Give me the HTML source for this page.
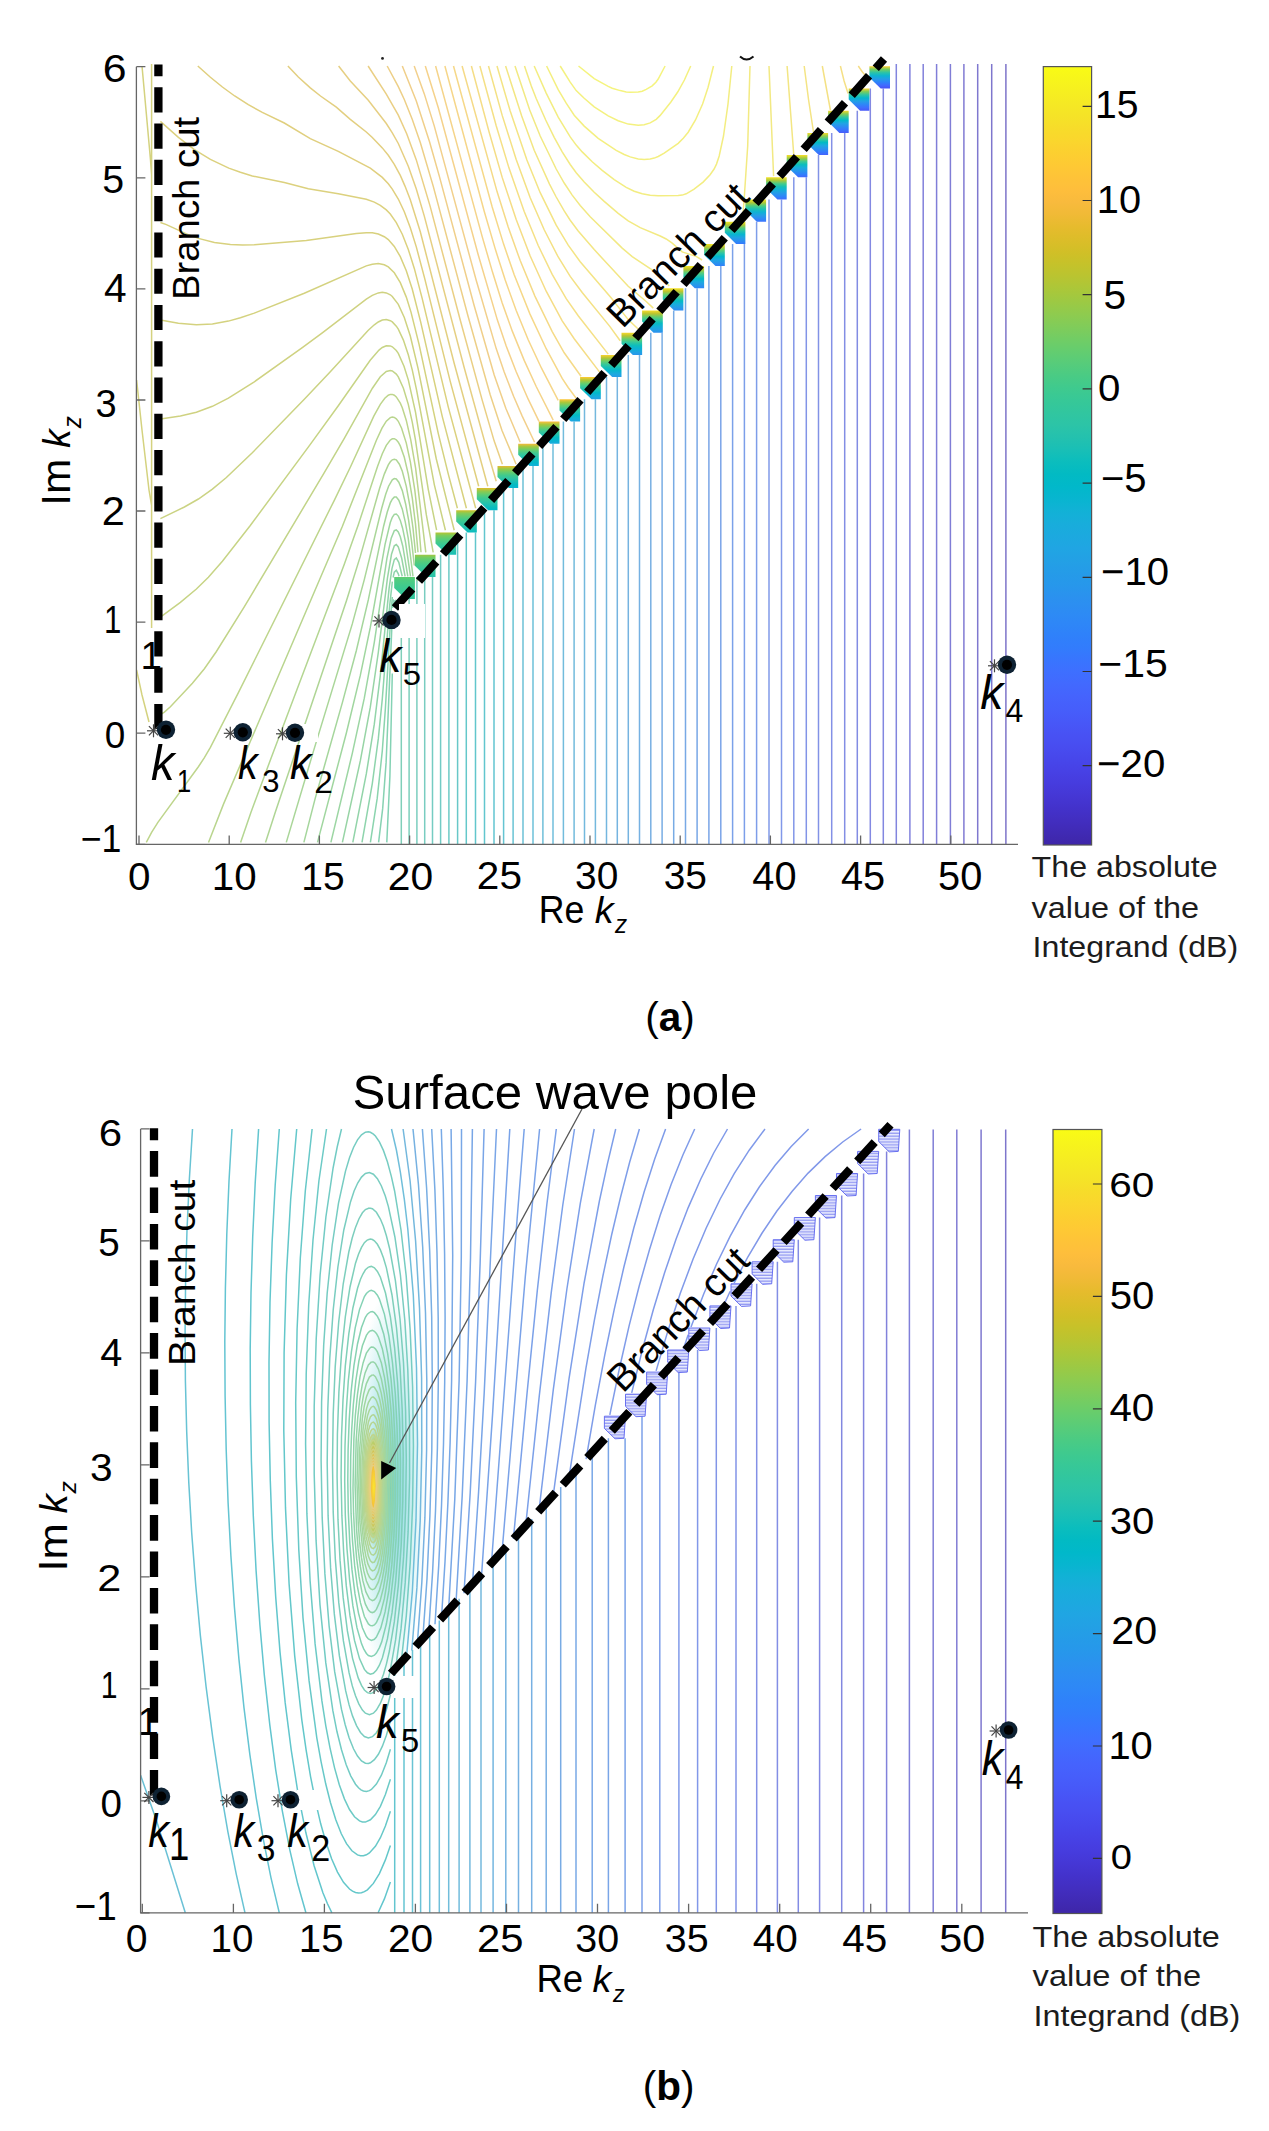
<!DOCTYPE html><html><head><meta charset="utf-8"><style>html,body{margin:0;padding:0;background:#fff}svg{display:block}text{font-family:"Liberation Sans",Arial,sans-serif}</style></head><body>
<svg width="1269" height="2131" viewBox="0 0 1269 2131">
<rect width="100%" height="100%" fill="#fff"/>
<defs><linearGradient id="cbar" x1="0" y1="0" x2="0" y2="1"><stop offset="0.0000" stop-color="#f9fb15"/><stop offset="0.0159" stop-color="#f7f51b"/><stop offset="0.0317" stop-color="#f6ef20"/><stop offset="0.0476" stop-color="#f5e924"/><stop offset="0.0635" stop-color="#f5e327"/><stop offset="0.0794" stop-color="#f7dc2a"/><stop offset="0.0952" stop-color="#fad62d"/><stop offset="0.1111" stop-color="#fccf30"/><stop offset="0.1270" stop-color="#fec934"/><stop offset="0.1429" stop-color="#fec338"/><stop offset="0.1587" stop-color="#febe3c"/><stop offset="0.1746" stop-color="#f8ba3d"/><stop offset="0.1905" stop-color="#f0ba36"/><stop offset="0.2063" stop-color="#e6bb2d"/><stop offset="0.2222" stop-color="#dcbd29"/><stop offset="0.2381" stop-color="#d1bf27"/><stop offset="0.2540" stop-color="#c5c22a"/><stop offset="0.2698" stop-color="#b9c431"/><stop offset="0.2857" stop-color="#abc739"/><stop offset="0.3016" stop-color="#9dc943"/><stop offset="0.3175" stop-color="#8fcb4e"/><stop offset="0.3333" stop-color="#81cc59"/><stop offset="0.3492" stop-color="#72cd64"/><stop offset="0.3651" stop-color="#64cd6f"/><stop offset="0.3810" stop-color="#57cc7a"/><stop offset="0.3968" stop-color="#4acb84"/><stop offset="0.4127" stop-color="#3fca8e"/><stop offset="0.4286" stop-color="#37c897"/><stop offset="0.4444" stop-color="#31c69f"/><stop offset="0.4603" stop-color="#2cc4a7"/><stop offset="0.4762" stop-color="#24c1ae"/><stop offset="0.4921" stop-color="#19bfb6"/><stop offset="0.5079" stop-color="#0bbdbd"/><stop offset="0.5238" stop-color="#02bac3"/><stop offset="0.5397" stop-color="#01b8ca"/><stop offset="0.5556" stop-color="#08b5d0"/><stop offset="0.5714" stop-color="#12b1d6"/><stop offset="0.5873" stop-color="#18addb"/><stop offset="0.6032" stop-color="#1ca9df"/><stop offset="0.6190" stop-color="#20a5e3"/><stop offset="0.6349" stop-color="#23a0e5"/><stop offset="0.6508" stop-color="#259be8"/><stop offset="0.6667" stop-color="#2797eb"/><stop offset="0.6825" stop-color="#2b91ef"/><stop offset="0.6984" stop-color="#2d8cf3"/><stop offset="0.7143" stop-color="#2e87f7"/><stop offset="0.7302" stop-color="#2f81fa"/><stop offset="0.7460" stop-color="#327cfc"/><stop offset="0.7619" stop-color="#3875fe"/><stop offset="0.7778" stop-color="#3e6fff"/><stop offset="0.7937" stop-color="#4269fe"/><stop offset="0.8095" stop-color="#4563fd"/><stop offset="0.8254" stop-color="#465efb"/><stop offset="0.8413" stop-color="#4758f8"/><stop offset="0.8571" stop-color="#4852f4"/><stop offset="0.8730" stop-color="#484df0"/><stop offset="0.8889" stop-color="#4747eb"/><stop offset="0.9048" stop-color="#4741e5"/><stop offset="0.9206" stop-color="#463cde"/><stop offset="0.9365" stop-color="#4537d5"/><stop offset="0.9524" stop-color="#4332cb"/><stop offset="0.9683" stop-color="#422ec0"/><stop offset="0.9841" stop-color="#402ab4"/><stop offset="1.0000" stop-color="#3e26a8"/></linearGradient></defs>
<g fill="none" stroke-width="1.5"><path d="M1005.9,844.4V64.0" stroke="#7d74c9"/><path d="M991.7,844.4V64.0" stroke="#7e76cd"/><path d="M977.7,844.4V64.0" stroke="#7f78cf"/><path d="M963.9,844.4V64.0" stroke="#807ad3"/><path d="M950.4,844.4V64.0" stroke="#807dd6"/><path d="M936.6,844.4V64.0" stroke="#807ed8"/><path d="M923.2,844.4V64.0" stroke="#8180db"/><path d="M909.9,844.4V64.0" stroke="#8283dd"/><path d="M896.3,844.4V64.0" stroke="#8285de"/><path d="M883.3,844.4V88.5" stroke="#8287e0"/><path d="M870.3,844.4V88.5" stroke="#8389e2"/><path d="M857.3,844.4V110.7" stroke="#828ce3"/><path d="M844.7,844.4V132.9" stroke="#838ee4"/><path d="M831.7,844.4V132.9" stroke="#8390e6"/><path d="M818.5,844.4V155.1" stroke="#8292e6"/><path d="M806.3,844.4V177.3" stroke="#8294e7"/><path d="M793.8,844.4V177.3" stroke="#8296e8"/><path d="M781.5,844.4V199.5" stroke="#8198e9"/><path d="M769.0,844.4V199.5" stroke="#809ae9"/><path d="M756.6,844.4V221.7" stroke="#7e9de9"/><path d="M744.4,844.4V243.9" stroke="#7c9ee9"/><path d="M732.6,844.4V243.9" stroke="#7ba1e9"/><path d="M720.8,844.4V266.1" stroke="#79a3e8"/><path d="M708.9,844.4V266.1" stroke="#79a5e7"/><path d="M697.1,844.4V288.3" stroke="#78a7e6"/><path d="M685.5,844.4V288.3" stroke="#78a9e5"/><path d="M673.7,844.4V310.5" stroke="#78abe4"/><path d="M662.1,844.4V332.7" stroke="#78ade4"/><path d="M650.8,844.4V332.7" stroke="#77afe2"/><path d="M639.5,844.4V354.9" stroke="#76b1e2"/><path d="M628.3,844.4V354.9" stroke="#75b3e0"/><path d="M617.3,844.4V377.1" stroke="#75b4e0"/><path d="M606.5,844.4V377.1" stroke="#74b6df"/><path d="M595.4,844.4V399.3" stroke="#74b8dd"/><path d="M584.5,844.4V399.3" stroke="#73b9dd"/><path d="M574.1,844.4V421.5" stroke="#72bbdc"/><path d="M563.4,844.4V421.5" stroke="#72bcdc"/><path d="M553.0,844.4V443.7" stroke="#70bedb"/><path d="M542.9,844.4V443.7" stroke="#6fbfd9"/><path d="M533.0,844.4V465.9" stroke="#6dc1d8"/><path d="M523.0,844.4V465.9" stroke="#6bc1d6"/><path d="M513.1,844.4V488.1" stroke="#68c3d4"/><path d="M503.6,844.4V488.1" stroke="#64c4d2"/><path d="M494.0,844.4V510.3" stroke="#62c5d0"/><path d="M484.5,844.4V510.3" stroke="#62c6ce"/><path d="M475.5,844.4V532.5" stroke="#62c6cc"/><path d="M466.3,844.4V532.5" stroke="#64c8ca"/><path d="M457.6,844.4V532.5" stroke="#68c8c8"/><path d="M448.9,844.4V554.7" stroke="#6dcac6"/><path d="M440.6,844.4V554.7" stroke="#72cbc5"/><path d="M432.5,844.4V576.9" stroke="#75ccc2"/><path d="M424.7,844.4V576.9" stroke="#79cdc0"/><path d="M416.9,844.4V576.9" stroke="#7bcebf"/><path d="M409.1,844.4V599.1" stroke="#7dcfbc"/><path d="M401.3,844.4V599.1" stroke="#80cfb9"/><path d="M396.2,600.3 394.3,601.2 393.6,607.0M397.6,604.9 396.3,600.3M392.3,673.6 389.9,776.4 386.8,842.4" stroke="#84d2b4"/><path d="M393.3,599.3 392.6,607.9M399.1,601.5 398.8,600.3M392.3,616.7 386.1,762.4 382.7,808.4 378.6,842.4" stroke="#87d2b2"/><path d="M392.3,597.0 391.0,612.3 385.4,708.3 382.3,750.9 377.2,798.4 370.4,842.4" stroke="#8bd4ae"/><path d="M399.0,576.3 398.3,573.8 396.3,570.3 394.3,572.1 393.1,577.5M392.3,581.7 389.6,606.3 382.3,698.9 378.3,738.9 372.3,783.6 362.0,842.4" stroke="#8ed4ac"/><path d="M402.2,576.3 398.8,562.3 396.3,558.0 394.3,559.6 392.0,568.3 389.1,588.3 380.3,675.4 374.3,724.2 366.3,773.9 352.8,842.4" stroke="#92d4a9"/><path d="M405.1,576.3 401.7,558.3 398.3,546.9 396.3,544.5 394.3,545.8 391.5,554.3 387.4,578.3 378.3,652.5 370.3,707.2 360.3,760.9 342.4,842.4" stroke="#97d4a5"/><path d="M407.8,576.3 402.8,546.2 400.3,536.8 398.3,532.0 396.3,529.9 394.3,530.7 391.2,538.2 386.9,558.3 374.3,642.3 364.3,698.2 352.3,753.4 330.9,842.4" stroke="#9cd6a3"/><path d="M410.5,576.3 405.5,542.2 402.6,528.2 400.3,520.4 398.3,516.1 396.3,514.0 395.3,514.2 394.3,514.4 392.3,517.3 390.3,522.5 385.1,544.2 370.3,627.4 360.3,675.4 346.3,733.2 317.5,842.4" stroke="#a0d69f"/><path d="M413.0,576.3 408.2,538.2 405.3,522.2 402.3,509.2 398.8,500.2 396.3,497.1 394.3,497.1 392.3,499.1 390.3,502.9 387.2,512.2 383.6,526.2 368.3,599.9 356.3,650.7 342.3,702.9 315.2,798.4 303.9,842.4" stroke="#a5d69c"/><path d="M414.3,565.5 411.7,542.2 408.6,520.2 405.7,504.2 402.3,490.6 398.8,482.2 396.3,479.0 394.3,478.6 392.3,479.9 388.6,486.2 385.7,494.2 381.7,508.2 364.3,579.6 352.3,623.9 313.7,750.4 286.3,842.4" stroke="#aad699"/><path d="M415.5,553.0 413.0,528.2 409.9,506.2 406.3,486.4 402.3,471.2 399.4,464.2 396.3,459.9 394.3,459.2 392.3,459.8 390.3,461.8 388.3,464.9 384.3,474.1 379.6,488.2 360.3,556.4 346.3,601.2 275.2,812.4 265.5,842.4M417.5,581.1 417.3,578.3" stroke="#afd595"/><path d="M418.0,552.3 415.5,524.2 412.3,498.2 408.3,474.4 404.3,457.3 400.3,445.9 398.3,442.2 396.3,439.8 394.3,438.7 392.3,438.8 390.1,440.2 386.3,445.4 382.3,453.8 377.6,466.2 358.3,524.7 344.3,564.2 273.2,752.4 250.9,812.4 240.6,842.4M419.7,578.9 419.6,578.3" stroke="#b4d692"/><path d="M421.0,552.3 418.5,522.2 414.8,490.2 410.4,462.2 406.3,443.1 401.6,428.2 398.3,421.3 396.3,418.8 394.3,417.4 392.3,417.0 390.3,417.6 386.3,421.2 382.0,428.2 376.4,440.2 342.3,526.5 223.4,804.4 208.5,842.4" stroke="#b9d58e"/><path d="M425.8,552.3 415.6,468.2 410.8,440.2 406.3,420.4 402.3,407.8 400.3,403.1 396.3,396.9 394.3,395.2 392.3,394.4 390.3,394.4 388.3,395.2 384.8,398.2 380.3,404.3 373.8,416.2 350.3,467.2 334.3,500.3 238.4,692.6 210.4,747.3 204.4,757.7 198.4,766.7 157.9,822.4 151.6,832.4 146.3,842.4" stroke="#bed58c"/><path d="M433.2,552.3 426.3,514.7 415.5,440.2 412.3,422.3 408.3,404.4 403.4,388.2 398.3,376.9 396.3,374.1 392.3,370.9 390.3,370.5 386.3,371.5 380.3,376.8 372.4,388.2 344.3,438.3 324.3,472.6 244.4,606.7 216.4,651.5 204.4,668.7 192.4,683.3 170.4,706.7 164.4,712.1 160.4,714.7" stroke="#c2d488"/><path d="M436.6,530.2 428.3,489.6 415.5,412.2 408.3,379.9 404.0,366.2 398.3,353.4 396.3,350.5 392.3,346.8 390.3,345.9 386.3,345.8 382.3,347.5 379.0,350.1 370.2,360.2 338.3,405.8 310.3,444.4 250.3,525.5 222.4,561.2 208.4,577.2 196.4,589.0 180.4,602.4 160.4,617.2" stroke="#c7d485"/><path d="M445.4,530.2 434.3,484.6 416.6,390.2 412.3,370.1 408.3,354.8 403.4,340.1 398.3,329.2 396.3,326.2 392.3,321.9 390.3,320.7 386.3,319.6 382.3,320.1 378.3,322.0 374.3,324.8 368.3,330.2 330.3,371.8 304.3,399.2 252.3,452.8 226.4,477.5 212.4,489.2 198.4,499.0 184.4,507.0 160.4,518.7" stroke="#cbd383"/><path d="M454.2,530.2 436.3,459.0 418.0,368.2 410.3,336.0 404.3,317.4 398.3,304.4 392.3,296.5 390.3,294.8 386.3,292.9 382.3,292.3 378.3,292.9 372.3,295.4 366.3,299.1 322.3,332.9 302.3,347.6 254.3,381.8 228.4,398.2 212.4,406.3 196.4,412.2 180.4,416.1 160.4,418.9" stroke="#cfd281"/><path d="M457.4,508.2 448.3,474.1 438.3,433.6 419.0,344.1 411.0,312.1 406.3,297.1 400.3,282.6 394.3,272.8 388.3,266.9 384.3,264.8 378.3,263.6 372.3,264.2 366.3,265.9 304.3,293.3 254.3,313.1 240.4,317.8 228.4,321.1 212.4,323.9 196.4,324.7 178.4,323.3 160.4,319.9" stroke="#d4d27f"/><path d="M466.4,508.2 442.3,416.6 420.7,322.1 412.3,289.3 406.3,270.8 400.3,256.6 394.3,246.4 388.3,239.6 384.3,236.7 378.3,234.0 372.3,232.8 366.3,232.7 356.3,233.6 306.3,240.4 254.3,244.7 242.4,245.0 230.4,244.5 214.4,242.4 198.4,238.4 186.4,233.9 166.4,224.6 160.4,222.5" stroke="#d8d17e"/><path d="M475.7,508.2 448.3,407.1 422.1,298.1 414.3,268.4 408.3,249.4 402.3,234.2 396.3,222.6 390.3,214.1 386.3,209.9 380.3,205.3 374.3,202.1 366.3,199.3 338.3,193.8 308.3,188.8 284.3,182.6 252.3,175.9 240.4,172.3 228.8,168.1 210.4,159.4 194.4,149.6 178.4,137.4 160.4,121.4" stroke="#dcd17e"/><path d="M478.7,486.2 450.3,381.6 424.6,278.1 416.3,246.9 410.3,227.7 404.3,211.8 398.3,199.0 392.3,189.1 388.3,183.8 382.3,177.4 370.3,168.2 338.3,151.4 310.3,138.6 284.3,123.0 262.3,112.4 248.3,104.7 234.7,96.0 222.4,87.0 210.4,77.3 197.8,66.0" stroke="#e0cf7e"/><path d="M487.8,486.2 454.3,363.7 420.3,231.7 410.3,199.8 405.0,186.1 400.3,175.4 394.3,164.3 388.3,155.3 382.3,147.9 372.3,137.5 366.3,132.0 350.3,119.3 336.3,107.2 320.5,96.0 310.3,87.9 298.3,77.0 287.9,66.0" stroke="#e3cf80"/><path d="M496.2,481.3 486.2,447.3 464.3,368.0 424.3,216.1 416.3,189.1 408.3,166.2 398.3,143.5 392.3,132.8 386.3,123.5 368.3,100.3 350.3,80.9 338.6,66.0" stroke="#e6cf82"/><path d="M502.4,464.2 494.2,441.1 482.2,400.1 460.3,320.2 430.1,206.1 416.3,159.9 406.8,134.0 398.3,115.2 386.3,94.1 368.1,66.0" stroke="#eacf84"/><path d="M516.1,464.2 501.9,430.2 490.2,394.7 468.2,316.8 433.2,186.1 420.3,142.5 412.3,119.4 404.3,99.5 398.3,86.7 387.2,66.0" stroke="#edcf87"/><path d="M520.2,442.2 505.8,408.2 494.2,374.9 474.2,305.8 439.3,176.1 429.6,142.0 416.3,101.0 402.3,66.0" stroke="#f0cf8a"/><path d="M534.6,442.2 522.2,416.1 513.6,396.2 504.2,372.1 496.2,348.6 476.2,280.3 434.3,126.1 424.3,93.9 414.2,66.0" stroke="#f2d08c"/><path d="M539.0,421.4 528.2,399.2 516.2,371.8 506.2,346.0 497.4,320.1 478.2,254.8 438.3,107.8 425.3,66.0" stroke="#f5d28b"/><path d="M553.2,420.2 536.2,386.5 524.2,360.4 512.2,330.9 502.2,302.9 492.5,272.1 482.2,236.6 435.6,66.0" stroke="#f5d48a"/><path d="M558.2,400.4 541.5,368.2 528.2,339.7 516.2,310.6 505.2,280.1 495.6,250.1 484.2,211.3 444.9,66.0" stroke="#f6d689"/><path d="M576.2,398.2 568.2,387.5 562.2,378.4 546.2,348.7 530.0,314.1 514.2,274.8 503.6,244.1 492.2,207.0 453.5,66.0" stroke="#f6d888"/><path d="M581.0,376.2 564.2,352.8 552.2,331.6 534.9,296.1 520.2,260.6 508.2,227.0 497.2,192.1 462.1,66.0" stroke="#f5da87"/><path d="M858.3,66.0 862.4,72.0 866.9,77.2M600.2,372.9 574.2,338.7 562.2,320.8 546.2,291.2 530.2,256.0 516.2,219.6 502.2,177.4 489.1,132.0 471.4,66.0" stroke="#f5dd86"/><path d="M840.4,66.0 844.1,81.0 848.1,93.4M608.2,354.1 578.2,315.7 566.2,298.7 552.2,274.4 538.2,245.5 524.2,211.5 509.0,168.1 496.2,125.8 479.9,66.0" stroke="#f5e086"/><path d="M822.3,66.0 830.4,110.0M620.2,340.8 609.6,326.1 582.2,292.5 570.2,276.4 558.2,257.0 544.2,229.8 530.2,197.7 516.2,159.4 502.2,115.4 488.5,66.0" stroke="#f4e184"/><path d="M804.2,66.0 808.6,100.0 813.5,132.0M640.2,331.0 628.2,319.6 611.3,298.1 580.2,261.7 568.2,245.2 556.2,225.2 540.2,192.7 526.9,160.0 510.2,111.0 497.0,66.0" stroke="#f4e484"/><path d="M787.1,66.0 793.7,154.0M653.3,308.1 646.2,301.5 628.2,286.3 594.2,249.6 578.2,231.0 570.2,220.2 564.2,210.9 556.2,197.0 549.5,184.1 534.2,150.2 521.7,116.0 505.6,66.0" stroke="#f3e683"/><path d="M769.0,66.0 773.6,176.1M669.2,286.1 664.1,280.1 657.8,274.1 650.2,268.5 632.2,256.6 622.2,248.1 590.2,216.7 580.2,205.5 572.2,195.1 564.2,183.0 556.2,169.0 540.2,136.0 529.7,110.0 515.0,66.0" stroke="#f2e983"/><path d="M750.0,66.0 747.7,146.0 744.1,200.0M744.1,200.3 742.9,215.3M702.1,260.0 696.1,256.4 682.2,251.9 672.2,243.1 666.2,239.0 660.2,236.0 640.2,227.6 628.2,220.9 618.2,213.3 604.2,201.4 594.2,192.2 584.2,182.0 576.2,172.7 570.2,164.5 562.2,151.8 554.2,137.3 545.7,120.0 536.2,98.5 531.3,86.0 524.5,66.0" stroke="#f3ea82"/><path d="M731.8,66.0 728.0,104.0 723.5,136.0 719.2,156.0 716.5,164.1 714.1,169.0 710.1,174.8 703.1,182.1 694.1,189.1 686.2,193.8 682.2,195.1 678.2,195.6 658.2,195.7 650.2,195.3 642.2,193.8 634.2,191.2 626.2,187.3 614.2,179.6 602.2,170.4 592.2,161.8 582.2,151.9 576.2,145.1 570.2,136.9 558.2,117.2 546.2,93.1 534.2,66.0" stroke="#f3ed81"/><path d="M713.5,66.0 708.1,87.3 702.6,104.0 695.5,120.0 688.2,132.2 683.5,138.0 678.2,143.3 664.2,153.1 658.2,156.5 654.2,158.1 650.2,159.0 644.2,159.4 638.2,158.9 630.2,156.9 624.2,154.5 616.2,150.4 598.2,138.3 584.2,126.1 574.2,115.2 566.2,103.2 558.2,89.7 546.6,66.0" stroke="#f4ef80"/><path d="M690.7,66.0 684.4,80.0 677.7,92.0 670.9,102.0 660.2,115.4 656.2,119.3 650.2,122.9 644.2,124.8 638.2,125.3 628.2,124.1 618.2,120.7 608.2,115.8 594.2,106.8 584.2,98.3 576.2,90.6 570.2,82.1 560.2,66.0" stroke="#f4f17f"/><path d="M665.1,66.0 658.2,79.0 656.1,82.0 652.2,85.8 646.2,89.4 642.2,91.2 638.2,91.9 630.2,92.3 626.2,92.0 620.2,90.6 612.2,88.2 608.2,86.4 594.2,78.7 578.5,66.0" stroke="#f5f47e"/><path d="M151.6,64V628 M142,66 L146,110 L150.5,160 L151.6,175 M136.6,380 L142,430 L149,490 L151.5,505 M136.6,670 L142,695 L149,722" stroke="#d4d27f"/></g><defs><linearGradient id="ga0" x1="0" y1="0" x2="0" y2="1"><stop offset="0.00" stop-color="#63cd70"/><stop offset="0.14" stop-color="#4fcc80"/><stop offset="0.29" stop-color="#46cb88"/><stop offset="0.43" stop-color="#3fca8e"/><stop offset="0.57" stop-color="#3ac993"/><stop offset="0.71" stop-color="#36c898"/><stop offset="0.86" stop-color="#34c79c"/><stop offset="1.00" stop-color="#31c69f"/></linearGradient><linearGradient id="ga1" x1="0" y1="0" x2="0" y2="1"><stop offset="0.00" stop-color="#a0c841"/><stop offset="0.14" stop-color="#6fcd66"/><stop offset="0.29" stop-color="#58cc79"/><stop offset="0.43" stop-color="#47cb87"/><stop offset="0.57" stop-color="#3bc993"/><stop offset="0.71" stop-color="#34c79c"/><stop offset="0.86" stop-color="#2ec4a4"/><stop offset="1.00" stop-color="#27c2ab"/></linearGradient><linearGradient id="ga2" x1="0" y1="0" x2="0" y2="1"><stop offset="0.00" stop-color="#b7c532"/><stop offset="0.14" stop-color="#7acc5e"/><stop offset="0.29" stop-color="#5bcc77"/><stop offset="0.43" stop-color="#44cb89"/><stop offset="0.57" stop-color="#36c898"/><stop offset="0.71" stop-color="#2ec5a4"/><stop offset="0.86" stop-color="#25c2ad"/><stop offset="1.00" stop-color="#17bfb6"/></linearGradient><linearGradient id="ga3" x1="0" y1="0" x2="0" y2="1"><stop offset="0.00" stop-color="#ccc028"/><stop offset="0.14" stop-color="#84cb56"/><stop offset="0.29" stop-color="#5ecc74"/><stop offset="0.43" stop-color="#42ca8b"/><stop offset="0.57" stop-color="#34c79c"/><stop offset="0.71" stop-color="#29c3aa"/><stop offset="0.86" stop-color="#19bfb6"/><stop offset="1.00" stop-color="#06bcc0"/></linearGradient><linearGradient id="ga4" x1="0" y1="0" x2="0" y2="1"><stop offset="0.00" stop-color="#dfbc2a"/><stop offset="0.14" stop-color="#90ca4d"/><stop offset="0.29" stop-color="#61cd71"/><stop offset="0.43" stop-color="#41ca8c"/><stop offset="0.57" stop-color="#31c6a0"/><stop offset="0.71" stop-color="#22c1b0"/><stop offset="0.86" stop-color="#0bbdbd"/><stop offset="1.00" stop-color="#01b8c9"/></linearGradient><linearGradient id="ga5" x1="0" y1="0" x2="0" y2="1"><stop offset="0.00" stop-color="#ecba33"/><stop offset="0.14" stop-color="#97ca47"/><stop offset="0.29" stop-color="#63cd70"/><stop offset="0.43" stop-color="#3fca8e"/><stop offset="0.57" stop-color="#2ec4a4"/><stop offset="0.71" stop-color="#19bfb5"/><stop offset="0.86" stop-color="#02bac4"/><stop offset="1.00" stop-color="#09b4d1"/></linearGradient><linearGradient id="ga6" x1="0" y1="0" x2="0" y2="1"><stop offset="0.00" stop-color="#f7ba3c"/><stop offset="0.14" stop-color="#9ec942"/><stop offset="0.29" stop-color="#64cd6f"/><stop offset="0.43" stop-color="#3dc991"/><stop offset="0.57" stop-color="#2bc3a8"/><stop offset="0.71" stop-color="#0fbebb"/><stop offset="0.86" stop-color="#02b7cb"/><stop offset="1.00" stop-color="#14b0d8"/></linearGradient><linearGradient id="ga7" x1="0" y1="0" x2="0" y2="1"><stop offset="0.00" stop-color="#febe3c"/><stop offset="0.14" stop-color="#a5c83d"/><stop offset="0.29" stop-color="#65cd6e"/><stop offset="0.43" stop-color="#3bc993"/><stop offset="0.57" stop-color="#27c2ac"/><stop offset="0.71" stop-color="#06bcc0"/><stop offset="0.86" stop-color="#09b4d1"/><stop offset="1.00" stop-color="#1babde"/></linearGradient><linearGradient id="ga8" x1="0" y1="0" x2="0" y2="1"><stop offset="0.00" stop-color="#fec537"/><stop offset="0.14" stop-color="#abc739"/><stop offset="0.29" stop-color="#66cd6e"/><stop offset="0.43" stop-color="#39c895"/><stop offset="0.57" stop-color="#22c1b0"/><stop offset="0.71" stop-color="#02bac5"/><stop offset="0.86" stop-color="#12b1d7"/><stop offset="1.00" stop-color="#1fa6e2"/></linearGradient><linearGradient id="ga9" x1="0" y1="0" x2="0" y2="1"><stop offset="0.00" stop-color="#fdcb33"/><stop offset="0.14" stop-color="#afc636"/><stop offset="0.29" stop-color="#65cd6e"/><stop offset="0.43" stop-color="#37c898"/><stop offset="0.57" stop-color="#1cc0b3"/><stop offset="0.71" stop-color="#01b8ca"/><stop offset="0.86" stop-color="#18addb"/><stop offset="1.00" stop-color="#23a1e5"/></linearGradient><linearGradient id="ga10" x1="0" y1="0" x2="0" y2="1"><stop offset="0.00" stop-color="#fbd22f"/><stop offset="0.14" stop-color="#b4c534"/><stop offset="0.29" stop-color="#66cd6d"/><stop offset="0.43" stop-color="#35c79a"/><stop offset="0.57" stop-color="#16bfb7"/><stop offset="0.71" stop-color="#06b5ce"/><stop offset="0.86" stop-color="#1ca9df"/><stop offset="1.00" stop-color="#259be8"/></linearGradient><linearGradient id="ga11" x1="0" y1="0" x2="0" y2="1"><stop offset="0.00" stop-color="#f9d82c"/><stop offset="0.14" stop-color="#b8c431"/><stop offset="0.29" stop-color="#66cd6e"/><stop offset="0.43" stop-color="#34c79c"/><stop offset="0.57" stop-color="#0fbebb"/><stop offset="0.71" stop-color="#0cb3d3"/><stop offset="0.86" stop-color="#1fa5e2"/><stop offset="1.00" stop-color="#2896eb"/></linearGradient><linearGradient id="ga12" x1="0" y1="0" x2="0" y2="1"><stop offset="0.00" stop-color="#f7dc2a"/><stop offset="0.14" stop-color="#bac430"/><stop offset="0.29" stop-color="#64cd6f"/><stop offset="0.43" stop-color="#32c69f"/><stop offset="0.57" stop-color="#08bcbf"/><stop offset="0.71" stop-color="#13b0d7"/><stop offset="0.86" stop-color="#23a1e4"/><stop offset="1.00" stop-color="#2b90ef"/></linearGradient><linearGradient id="ga13" x1="0" y1="0" x2="0" y2="1"><stop offset="0.00" stop-color="#f5e128"/><stop offset="0.14" stop-color="#bcc42f"/><stop offset="0.29" stop-color="#62cd70"/><stop offset="0.43" stop-color="#30c5a2"/><stop offset="0.57" stop-color="#03bbc2"/><stop offset="0.71" stop-color="#18aedb"/><stop offset="0.86" stop-color="#259de7"/><stop offset="1.00" stop-color="#2d8bf4"/></linearGradient><linearGradient id="ga14" x1="0" y1="0" x2="0" y2="1"><stop offset="0.00" stop-color="#f5e426"/><stop offset="0.14" stop-color="#bdc32f"/><stop offset="0.29" stop-color="#5fcd73"/><stop offset="0.43" stop-color="#2dc4a5"/><stop offset="0.57" stop-color="#01b9c6"/><stop offset="0.71" stop-color="#1baade"/><stop offset="0.86" stop-color="#2798ea"/><stop offset="1.00" stop-color="#2e85f8"/></linearGradient><linearGradient id="ga15" x1="0" y1="0" x2="0" y2="1"><stop offset="0.00" stop-color="#f5e626"/><stop offset="0.14" stop-color="#bbc42f"/><stop offset="0.29" stop-color="#5bcc76"/><stop offset="0.43" stop-color="#2ac3a9"/><stop offset="0.57" stop-color="#02b7cb"/><stop offset="0.71" stop-color="#1ea7e1"/><stop offset="0.86" stop-color="#2994ed"/><stop offset="1.00" stop-color="#307ffb"/></linearGradient><linearGradient id="ga16" x1="0" y1="0" x2="0" y2="1"><stop offset="0.00" stop-color="#f5e626"/><stop offset="0.14" stop-color="#b7c532"/><stop offset="0.29" stop-color="#55cc7c"/><stop offset="0.43" stop-color="#25c2ad"/><stop offset="0.57" stop-color="#07b5cf"/><stop offset="0.71" stop-color="#21a3e3"/><stop offset="0.86" stop-color="#2c8ff1"/><stop offset="1.00" stop-color="#3479fd"/></linearGradient><linearGradient id="ga17" x1="0" y1="0" x2="0" y2="1"><stop offset="0.00" stop-color="#f5e526"/><stop offset="0.14" stop-color="#b1c636"/><stop offset="0.29" stop-color="#4dcc82"/><stop offset="0.43" stop-color="#1dc0b3"/><stop offset="0.57" stop-color="#0eb2d4"/><stop offset="0.71" stop-color="#249fe5"/><stop offset="0.86" stop-color="#2d8af5"/><stop offset="1.00" stop-color="#3b73fe"/></linearGradient><linearGradient id="ga18" x1="0" y1="0" x2="0" y2="1"><stop offset="0.00" stop-color="#f5e228"/><stop offset="0.14" stop-color="#a9c73b"/><stop offset="0.29" stop-color="#45cb89"/><stop offset="0.43" stop-color="#14beb8"/><stop offset="0.57" stop-color="#15afd8"/><stop offset="0.71" stop-color="#259be8"/><stop offset="0.86" stop-color="#2e85f8"/><stop offset="1.00" stop-color="#406dfe"/></linearGradient><linearGradient id="ga19" x1="0" y1="0" x2="0" y2="1"><stop offset="0.00" stop-color="#f6de29"/><stop offset="0.14" stop-color="#9fc942"/><stop offset="0.29" stop-color="#3dc990"/><stop offset="0.43" stop-color="#0abdbe"/><stop offset="0.57" stop-color="#1aacdd"/><stop offset="0.71" stop-color="#2796eb"/><stop offset="0.86" stop-color="#3080fb"/><stop offset="1.00" stop-color="#4367fd"/></linearGradient><linearGradient id="ga20" x1="0" y1="0" x2="0" y2="1"><stop offset="0.00" stop-color="#f8db2b"/><stop offset="0.14" stop-color="#95ca49"/><stop offset="0.29" stop-color="#37c897"/><stop offset="0.43" stop-color="#02bac3"/><stop offset="0.57" stop-color="#1da8e0"/><stop offset="0.71" stop-color="#2b92ee"/><stop offset="0.86" stop-color="#347afd"/><stop offset="1.00" stop-color="#4561fc"/></linearGradient><linearGradient id="ga21" x1="0" y1="0" x2="0" y2="1"><stop offset="0.00" stop-color="#f9d62d"/><stop offset="0.14" stop-color="#8acb52"/><stop offset="0.29" stop-color="#33c69e"/><stop offset="0.43" stop-color="#01b8c9"/><stop offset="0.57" stop-color="#20a4e3"/><stop offset="0.71" stop-color="#2d8df2"/><stop offset="0.86" stop-color="#3974fe"/><stop offset="1.00" stop-color="#475cfa"/></linearGradient><linearGradient id="ga22" x1="0" y1="0" x2="0" y2="1"><stop offset="0.00" stop-color="#fbd22f"/><stop offset="0.14" stop-color="#7fcc5a"/><stop offset="0.29" stop-color="#2ec4a4"/><stop offset="0.43" stop-color="#05b6ce"/><stop offset="0.57" stop-color="#23a0e5"/><stop offset="0.71" stop-color="#2d88f6"/><stop offset="0.86" stop-color="#3f6eff"/><stop offset="1.00" stop-color="#4757f7"/></linearGradient><linearGradient id="ga23" x1="0" y1="0" x2="0" y2="1"><stop offset="0.00" stop-color="#fdce31"/><stop offset="0.14" stop-color="#73cd62"/><stop offset="0.29" stop-color="#29c3aa"/><stop offset="0.43" stop-color="#0cb3d3"/><stop offset="0.57" stop-color="#259ce7"/><stop offset="0.71" stop-color="#2e84f9"/><stop offset="0.86" stop-color="#4269fe"/><stop offset="1.00" stop-color="#4851f4"/></linearGradient></defs><path d="M394.2,576.9 L414.9,576.9 L414.9,599.1 L405.6,599.1 L394.2,588.0Z" fill="url(#ga0)"/><path d="M414.9,554.7 L435.5,554.7 L435.5,576.9 L426.2,576.9 L414.9,565.8Z" fill="url(#ga1)"/><path d="M435.5,532.5 L456.2,532.5 L456.2,554.7 L446.9,554.7 L435.5,543.6Z" fill="url(#ga2)"/><path d="M456.2,510.3 L476.8,510.3 L476.8,532.5 L467.5,532.5 L456.2,521.4Z" fill="url(#ga3)"/><path d="M476.8,488.1 L497.5,488.1 L497.5,510.3 L488.2,510.3 L476.8,499.2Z" fill="url(#ga4)"/><path d="M497.5,465.9 L518.2,465.9 L518.2,488.1 L508.9,488.1 L497.5,477.0Z" fill="url(#ga5)"/><path d="M518.2,443.7 L538.8,443.7 L538.8,465.9 L529.5,465.9 L518.2,454.8Z" fill="url(#ga6)"/><path d="M538.8,421.5 L559.5,421.5 L559.5,443.7 L550.2,443.7 L538.8,432.6Z" fill="url(#ga7)"/><path d="M559.5,399.3 L580.1,399.3 L580.1,421.5 L570.8,421.5 L559.5,410.4Z" fill="url(#ga8)"/><path d="M580.1,377.1 L600.8,377.1 L600.8,399.3 L591.5,399.3 L580.1,388.2Z" fill="url(#ga9)"/><path d="M600.8,354.9 L621.5,354.9 L621.5,377.1 L612.2,377.1 L600.8,366.0Z" fill="url(#ga10)"/><path d="M621.5,332.7 L642.1,332.7 L642.1,354.9 L632.8,354.9 L621.5,343.8Z" fill="url(#ga11)"/><path d="M642.1,310.5 L662.8,310.5 L662.8,332.7 L653.5,332.7 L642.1,321.6Z" fill="url(#ga12)"/><path d="M662.8,288.3 L683.4,288.3 L683.4,310.5 L674.1,310.5 L662.8,299.4Z" fill="url(#ga13)"/><path d="M683.4,266.1 L704.1,266.1 L704.1,288.3 L694.8,288.3 L683.4,277.2Z" fill="url(#ga14)"/><path d="M704.1,243.9 L724.8,243.9 L724.8,266.1 L715.5,266.1 L704.1,255.0Z" fill="url(#ga15)"/><path d="M724.8,221.7 L745.4,221.7 L745.4,243.9 L736.1,243.9 L724.8,232.8Z" fill="url(#ga16)"/><path d="M745.4,199.5 L766.1,199.5 L766.1,221.7 L756.8,221.7 L745.4,210.6Z" fill="url(#ga17)"/><path d="M766.1,177.3 L786.7,177.3 L786.7,199.5 L777.4,199.5 L766.1,188.4Z" fill="url(#ga18)"/><path d="M786.7,155.1 L807.4,155.1 L807.4,177.3 L798.1,177.3 L786.7,166.2Z" fill="url(#ga19)"/><path d="M807.4,132.9 L828.1,132.9 L828.1,155.1 L818.8,155.1 L807.4,144.0Z" fill="url(#ga20)"/><path d="M828.1,110.7 L848.7,110.7 L848.7,132.9 L839.4,132.9 L828.1,121.8Z" fill="url(#ga21)"/><path d="M848.7,88.5 L869.4,88.5 L869.4,110.7 L860.1,110.7 L848.7,99.6Z" fill="url(#ga22)"/><path d="M869.4,66.3 L890.0,66.3 L890.0,88.5 L880.7,88.5 L869.4,77.4Z" fill="url(#ga23)"/><defs><radialGradient id="pfill" cx="0.5" cy="0.5" r="0.5"><stop offset="0" stop-color="#52c6b0" stop-opacity="0.85"/><stop offset="0.4" stop-color="#6ccfda" stop-opacity="0.6"/><stop offset="1" stop-color="#8fe0e0" stop-opacity="0"/></radialGradient><radialGradient id="pcore" cx="0.5" cy="0.5" r="0.5"><stop offset="0" stop-color="#fbe62e"/><stop offset="0.45" stop-color="#f4b43a"/><stop offset="0.75" stop-color="#b9c94a" stop-opacity="0.8"/><stop offset="1" stop-color="#8fd07a" stop-opacity="0"/></radialGradient></defs><ellipse cx="390" cy="1487" rx="36" ry="200" fill="url(#pfill)"/><ellipse cx="373.8" cy="1487" rx="9" ry="60" fill="url(#pcore)"/><g fill="none" stroke-width="1.5"><path d="M861.1,1129.0 842.7,1142.0 825.1,1156.6 808.1,1173.1 792.2,1191.2 776.9,1211.0 762.1,1233.0 747.8,1257.0 734.2,1283.0" stroke="#8198e9"/><path d="M730.2,1291.2 723.8,1305.0" stroke="#8198e9"/><path d="M808.6,1129.0 791.2,1146.5 775.2,1165.3 759.3,1187.0 744.7,1210.0 730.2,1236.1 716.6,1264.0 703.7,1294.0 691.0,1326.9" stroke="#8099e9"/><path d="M688.2,1334.8 683.4,1348.9" stroke="#8099e9"/><path d="M765.0,1129.0 749.2,1150.2 734.2,1173.7 720.2,1199.0 706.2,1228.0 693.1,1259.0 680.2,1293.5 668.2,1329.9 656.1,1370.9" stroke="#809ae9"/><path d="M727.5,1129.0 713.7,1153.0 700.8,1179.0 688.2,1207.6 676.1,1239.0 664.5,1273.0 653.3,1309.7 642.3,1350.0 631.7,1392.9" stroke="#809ae9"/><path d="M694.7,1129.0 682.9,1155.0 671.2,1184.2 660.2,1215.3 649.4,1250.0 639.2,1286.0 629.1,1325.9 619.3,1369.0 609.8,1414.9" stroke="#809ce9"/><path d="M665.6,1129.0 654.7,1159.0 644.1,1192.0 633.8,1228.0 623.9,1267.0 614.3,1309.1 604.8,1354.9 595.4,1404.9 586.3,1457.9" stroke="#7e9ce9"/><path d="M586.3,1458.2 586.1,1459.1" stroke="#7e9ce9"/><path d="M639.4,1129.0 629.7,1162.0 620.6,1197.0 611.6,1235.0 602.9,1276.0 594.3,1320.7 586.0,1367.9 569.0,1477.2" stroke="#7e9ee9"/><path d="M615.7,1129.0 607.3,1164.3 599.4,1201.0 584.1,1283.0 569.0,1378.9 553.3,1494.9" stroke="#7d9ee9"/><path d="M594.2,1129.0 580.3,1203.3 566.9,1289.0 553.3,1389.6 539.0,1510.3" stroke="#7c9fe9"/><path d="M574.5,1129.0 562.8,1205.0 551.3,1292.1 539.3,1395.6 525.8,1524.5" stroke="#7ba0e9"/><path d="M556.3,1129.0 546.9,1204.0 537.3,1290.7 527.3,1390.6 513.4,1538.8" stroke="#7ba1e9"/><path d="M539.6,1129.0 525.3,1276.6 502.1,1551.2" stroke="#7aa2e8"/><path d="M524.2,1129.0 516.1,1232.0 491.5,1562.7" stroke="#79a3e8"/><path d="M509.8,1129.0 492.6,1413.9 481.7,1573.5" stroke="#79a3e8"/><path d="M496.5,1129.0 484.2,1392.9 478.6,1491.9 472.5,1583.7" stroke="#79a5e7"/><path d="M484.1,1129.0 480.1,1264.0 475.6,1381.9 470.2,1492.9 464.0,1593.3" stroke="#79a5e7"/><path d="M472.4,1129.0 470.5,1258.0 467.1,1380.9 462.2,1495.9 456.1,1601.2" stroke="#78a6e6"/><path d="M185.3,1912.8 156.6,1821.0 140.6,1775.3" stroke="#6bc1d6"/><path d="M461.5,1129.0 461.3,1257.0 459.1,1380.9 454.8,1498.9 448.6,1609.7" stroke="#78a7e6"/><path d="M245.0,1912.8 236.2,1873.8 227.9,1831.8 220.0,1785.8 212.8,1737.8 206.1,1686.9 200.4,1635.9 195.8,1585.9 191.7,1532.9 188.8,1482.9 186.7,1431.9 185.4,1380.9 185.1,1329.9 185.6,1280.0 187.0,1230.0 189.3,1180.0 192.5,1129.0" stroke="#68c3d4"/><path d="M451.1,1129.0 452.7,1255.0 451.6,1380.9 450.1,1442.9 447.9,1502.9 445.0,1561.9 441.5,1617.7" stroke="#78a8e6"/><path d="M279.3,1912.8 271.0,1877.8 263.4,1839.8 256.2,1797.8 249.9,1754.8 244.0,1707.9 238.9,1658.9 234.4,1606.9 230.9,1555.9 228.1,1502.9 226.2,1449.9 225.1,1395.9 224.8,1341.9 225.4,1288.0 226.8,1234.0 229.0,1181.0 232.0,1129.0" stroke="#64c4d2"/><path d="M441.3,1129.0 443.3,1190.0 444.6,1254.0 445.1,1318.0 444.7,1381.9 443.5,1443.9 441.5,1505.9 438.7,1565.9 435.0,1624.3" stroke="#78aae6"/><path d="M305.9,1912.8 297.7,1883.8 289.8,1849.8 282.3,1810.8 275.7,1769.8 269.8,1724.8 264.3,1674.9 259.9,1624.9 256.1,1570.9 253.3,1515.9 251.4,1460.9 250.4,1404.9 250.2,1348.9 251.0,1293.0 252.7,1237.0 255.2,1183.0 258.6,1129.0" stroke="#62c5cf"/><path d="M431.7,1129.0 434.9,1190.0 437.0,1253.0 438.2,1318.0 438.3,1382.9 437.4,1447.9 435.5,1510.9 432.6,1571.9 428.7,1631.5" stroke="#78ace4"/><path d="M390.4,1882.0 384.4,1898.9 378.1,1912.8" stroke="#62c6cd"/><path d="M331.9,1912.8 327.5,1903.8 322.9,1892.8 314.1,1865.8 305.9,1832.8 298.1,1793.8 291.2,1749.8 285.2,1702.9 280.0,1651.9 275.7,1596.9 272.4,1538.9 270.3,1480.9 269.1,1421.9 269.0,1361.9 270.0,1302.0 272.1,1243.0 275.2,1185.0 279.3,1129.0" stroke="#62c6cd"/><path d="M422.4,1129.0 426.6,1188.0 429.7,1251.0 431.7,1317.0 432.3,1382.9 431.8,1449.9 429.9,1515.9 427.0,1578.9 422.8,1638.5" stroke="#78aee3"/><path d="M390.4,1845.4 385.4,1859.9 379.4,1873.6 373.4,1883.4 367.4,1889.8 364.4,1891.7 361.5,1892.8 358.5,1893.0 355.5,1892.5 352.5,1891.2 349.5,1889.0 343.5,1882.3 337.5,1872.1 331.6,1858.8 326.1,1842.8 320.7,1823.8 315.6,1801.8 310.6,1776.8 306.1,1749.8 301.8,1719.8 294.7,1655.9 289.1,1583.9 285.5,1507.9 283.8,1430.9 284.1,1352.9 286.4,1275.0 290.7,1199.0 296.7,1129.0" stroke="#63c7ca"/><path d="M413.0,1129.0 418.5,1185.0 422.7,1247.0 425.5,1313.0 426.8,1380.9 426.6,1449.9 424.9,1517.9 421.8,1582.9 417.3,1644.0" stroke="#76b1e1"/><path d="M390.4,1811.2 385.4,1826.1 380.4,1837.7 375.4,1846.3 369.4,1852.9 366.4,1854.8 363.4,1855.8 360.5,1855.8 357.5,1854.9 351.9,1850.8 346.5,1843.7 341.3,1833.8 335.8,1819.8 330.5,1802.8 325.7,1783.8 321.1,1761.8 316.8,1737.8 309.1,1680.9 303.0,1617.9 298.8,1549.9 296.3,1476.9 295.7,1402.9 297.1,1328.9 300.3,1258.0 305.3,1191.0 312.1,1129.0" stroke="#67c8c8"/><path d="M403.1,1129.0 410.1,1181.0 415.6,1241.0 419.5,1308.0 421.6,1377.9 421.8,1449.9 420.2,1520.9 416.9,1587.9 411.8,1650.5" stroke="#74b8dd"/><path d="M390.4,1779.2 385.4,1794.6 380.4,1806.3 375.4,1814.6 370.4,1819.8 365.4,1822.1 362.4,1822.0 359.5,1820.9 354.5,1816.7 349.5,1809.5 344.5,1799.1 339.3,1784.8 334.5,1767.6 330.0,1747.8 325.8,1725.8 321.9,1700.9 315.1,1643.9 310.1,1580.9 306.9,1513.9 305.6,1443.9 306.2,1373.9 308.7,1305.0 313.0,1240.0 318.9,1181.0 326.5,1129.0" stroke="#6ccac6"/><path d="M391.5,1129.0 396.4,1150.0 400.4,1172.4 404.4,1199.8 407.8,1229.0 413.3,1295.0 416.5,1367.9 417.5,1443.9 416.0,1519.9 412.3,1591.9 406.6,1655.7" stroke="#70beda"/><path d="M390.4,1749.2 386.3,1762.8 381.4,1775.2 376.4,1784.1 371.4,1789.5 369.4,1790.6 366.4,1791.4 363.4,1791.0 361.0,1789.8 358.5,1787.8 355.5,1784.2 350.7,1775.8 346.2,1764.8 341.5,1749.8 337.0,1731.8 332.9,1710.9 325.8,1662.9 320.0,1604.9 316.1,1540.9 314.2,1473.9 314.2,1405.9 316.2,1338.9 320.1,1275.0 325.9,1217.0 333.1,1168.0 337.2,1147.0 341.5,1129.0" stroke="#72cbc4"/><path d="M390.4,1721.1 386.4,1735.2 382.4,1746.2 378.4,1754.3 374.4,1759.7 370.4,1762.8 368.4,1763.4 365.4,1763.2 361.5,1760.9 357.5,1756.1 353.5,1748.8 349.1,1737.8 345.2,1724.8 341.5,1709.4 334.7,1671.9 329.1,1625.9 324.9,1573.9 322.2,1517.9 321.1,1459.9 321.6,1401.9 323.7,1344.9 327.2,1293.0 332.2,1245.0 338.5,1203.1 345.5,1171.1 349.5,1157.8 353.5,1147.5 357.5,1139.9 361.5,1134.9 365.4,1132.2 368.4,1131.8 370.4,1132.3 373.4,1134.1 375.4,1136.0 379.4,1141.9 383.4,1150.4 387.4,1161.8 391.4,1176.6 394.6,1191.0 401.0,1230.0 406.2,1276.0 410.1,1328.9 412.6,1386.9 413.4,1445.9 412.6,1504.9 410.2,1562.9 406.3,1615.9 401.2,1662.1" stroke="#76ccc2"/><path d="M390.4,1694.7 387.0,1707.9 383.4,1718.8 380.4,1725.9 376.4,1732.7 372.4,1736.7 368.4,1737.9 364.4,1736.5 360.5,1732.5 356.5,1725.6 352.5,1715.9 349.1,1704.9 345.7,1690.9 339.4,1655.9 334.3,1613.9 330.6,1567.9 328.1,1515.9 327.2,1462.9 327.8,1408.9 329.8,1357.9 333.2,1310.0 337.9,1267.0 343.8,1230.0 350.5,1201.9 354.1,1191.0 357.7,1183.0 361.5,1177.1 365.4,1173.4 369.4,1172.5 373.4,1174.2 377.4,1178.7 381.4,1186.0 385.3,1196.0 388.4,1206.6 394.9,1237.0 400.4,1275.0 404.8,1320.0 407.8,1369.9 409.5,1423.9 409.6,1477.9 408.1,1531.9 405.2,1582.9 401.0,1628.9 395.7,1667.6" stroke="#79cdc0"/><path d="M369.3,1208.0 372.4,1208.7 376.4,1212.3 380.4,1219.0 383.4,1226.3 386.4,1235.8 389.7,1249.0 395.4,1280.7 400.0,1319.0 403.5,1362.9 405.6,1410.9 406.3,1459.9 405.6,1508.9 403.6,1556.9 400.1,1601.9 395.6,1639.9 390.0,1671.9 386.5,1685.9 383.4,1695.8 380.4,1703.2 376.4,1710.1 373.4,1713.2 369.4,1714.7 365.4,1713.2 362.4,1710.1 358.8,1703.9 355.5,1695.8 352.3,1685.9 349.1,1672.9 343.4,1640.9 338.8,1602.9 335.3,1558.9 333.2,1511.9 332.5,1462.9 333.2,1413.9 335.2,1366.9 338.7,1322.0 343.2,1284.0 348.8,1252.0 352.2,1238.0 355.5,1227.4 358.9,1219.0 362.4,1212.8 365.4,1209.6 369.3,1208.0" stroke="#7ccebd"/><path d="M367.3,1240.0 370.4,1239.0 372.4,1239.5 374.4,1240.8 377.4,1244.3 380.4,1249.9 383.4,1257.7 386.4,1267.9 392.0,1295.0 396.5,1327.9 400.0,1366.9 402.2,1409.9 403.2,1454.9 402.8,1500.9 401.2,1544.9 398.3,1585.9 394.3,1621.9 389.4,1651.0 386.4,1664.1 383.4,1674.4 380.4,1682.3 377.4,1687.9 374.4,1691.6 372.4,1692.9 370.4,1693.4 367.4,1692.6 364.4,1690.0 361.5,1685.4 358.2,1677.9 352.5,1658.1 347.4,1630.9 343.2,1597.9 340.1,1560.9 338.0,1519.9 337.1,1476.9 337.4,1433.9 338.9,1391.9 341.6,1351.9 345.3,1317.0 350.0,1287.0 355.5,1263.2 358.5,1254.2 361.5,1247.4 364.4,1242.7 367.3,1240.0" stroke="#7ecfba"/><path d="M368.6,1267.0 371.4,1266.4 374.4,1267.8 377.4,1271.4 380.4,1277.2 385.5,1293.0 390.4,1317.1 394.6,1347.9 397.6,1382.9 399.6,1421.9 400.4,1462.9 400.0,1504.9 398.4,1544.9 395.7,1580.9 392.0,1612.9 387.4,1638.9 382.4,1657.7 379.4,1665.2 376.4,1670.4 373.4,1673.3 370.4,1674.1 367.4,1672.8 364.4,1669.4 359.5,1658.6 354.5,1640.4 350.0,1615.9 346.3,1585.9 343.7,1552.9 341.9,1515.9 341.1,1476.9 341.5,1436.9 343.0,1399.9 345.3,1365.9 348.8,1333.9 352.9,1308.0 357.6,1288.0 360.5,1279.3 362.9,1274.0 365.4,1269.8 368.6,1267.0" stroke="#80d0b8"/><path d="M369.2,1291.0 371.4,1290.4 374.4,1291.6 377.4,1295.2 379.4,1299.1 384.4,1314.1 388.9,1335.9 392.5,1362.9 395.3,1393.9 397.1,1428.9 397.9,1465.9 397.5,1502.9 396.1,1538.9 393.8,1570.9 390.5,1599.9 386.4,1623.8 381.7,1641.9 379.4,1647.6 376.4,1653.0 374.4,1655.2 371.4,1656.5 368.4,1655.5 366.4,1653.5 363.7,1648.9 361.5,1643.6 357.0,1627.9 352.9,1605.9 349.6,1579.9 347.0,1548.9 345.3,1514.9 344.7,1480.9 345.0,1445.9 346.2,1411.9 348.3,1380.9 351.4,1351.9 355.2,1327.9 359.5,1309.6 364.4,1296.6 366.4,1293.5 369.2,1291.0" stroke="#84d2b5"/><path d="M370.1,1312.0 372.4,1311.6 374.4,1312.7 377.4,1316.4 379.4,1320.4 383.7,1333.9 387.7,1353.9 391.0,1378.9 393.4,1406.9 394.9,1438.9 395.5,1471.9 395.2,1504.9 393.9,1535.9 391.8,1564.9 388.8,1590.9 385.1,1611.9 380.8,1627.9 376.4,1637.1 374.4,1639.3 371.4,1640.5 368.4,1639.0 366.4,1636.5 362.4,1627.8 358.5,1613.1 355.0,1593.9 352.0,1569.9 349.8,1542.9 348.3,1511.9 347.8,1480.9 348.1,1449.9 349.2,1419.9 351.1,1391.9 353.9,1365.9 357.5,1344.0 361.5,1327.5 365.4,1317.3 367.4,1314.2 370.1,1312.0" stroke="#87d2b2"/><path d="M370.1,1330.9 372.4,1330.4 374.4,1331.3 376.4,1333.5 378.4,1337.1 382.4,1349.0 386.1,1366.9 389.0,1387.9 391.2,1412.9 392.8,1440.9 393.4,1469.9 393.2,1499.9 392.1,1528.9 390.2,1555.9 387.7,1578.9 384.4,1598.4 380.4,1613.9 376.4,1622.6 374.4,1624.9 372.4,1625.8 370.4,1625.5 368.4,1623.9 364.4,1616.5 360.5,1602.9 357.3,1585.9 354.7,1565.9 352.5,1540.9 351.1,1513.9 350.5,1485.9 350.7,1456.9 351.7,1429.9 353.3,1404.9 355.8,1380.9 358.9,1360.9 362.4,1345.8 366.4,1335.4 368.4,1332.4 370.1,1330.9" stroke="#8cd4ae"/><path d="M370.0,1347.9 371.4,1347.1 373.4,1347.2 375.4,1348.8 377.4,1351.9 381.4,1363.0 384.6,1377.9 387.4,1397.9 389.5,1420.9 390.9,1445.9 391.5,1471.9 391.3,1499.9 390.3,1525.9 388.7,1548.9 386.3,1570.9 383.4,1587.9 380.1,1600.9 376.4,1609.4 374.4,1611.8 372.4,1612.6 370.4,1612.1 368.4,1610.1 365.4,1604.2 362.1,1592.9 359.1,1576.9 356.7,1558.9 354.8,1536.9 353.6,1513.9 353.0,1487.9 353.9,1438.9 355.3,1415.9 357.4,1394.9 360.0,1376.9 363.1,1362.9 366.4,1353.1 370.0,1347.9" stroke="#90d4ab"/><path d="M371.5,1361.9 373.4,1361.9 375.4,1363.5 378.4,1369.1 381.4,1379.1 384.3,1393.9 386.6,1411.9 388.2,1431.9 389.8,1477.9 388.6,1523.9 387.0,1545.9 384.8,1564.9 382.4,1578.7 379.4,1590.4 376.4,1597.4 374.4,1599.8 372.4,1600.6 369.4,1598.8 365.9,1591.9 362.9,1580.9 360.4,1566.9 358.1,1548.9 356.6,1529.9 355.1,1484.9 356.2,1439.9 357.7,1417.9 359.7,1399.9 362.4,1383.9 365.1,1372.9 368.4,1365.0 371.5,1361.9" stroke="#95d4a8"/><path d="M372.3,1374.9 373.4,1375.0 375.4,1376.7 378.4,1382.7 381.2,1392.9 383.4,1405.1 385.4,1420.9 386.9,1439.9 388.2,1481.9 387.0,1523.9 385.6,1541.9 383.5,1558.9 381.2,1571.9 378.4,1581.9 375.4,1587.9 374.4,1588.9 372.4,1589.7 370.8,1588.9 369.4,1587.5 366.4,1581.0 363.8,1570.9 361.5,1557.9 359.6,1541.9 358.2,1522.9 357.0,1482.9 358.1,1441.9 361.5,1407.2 363.7,1393.9 366.4,1383.6 369.4,1377.1 372.3,1374.9" stroke="#9ad6a4"/><path d="M371.6,1386.9 373.4,1386.7 374.4,1387.3 377.4,1392.2 379.8,1399.9 382.0,1410.9 385.3,1440.9 386.8,1479.9 385.8,1517.9 382.7,1550.9 380.6,1562.9 378.3,1571.9 375.4,1578.0 374.4,1579.1 372.4,1579.8 370.9,1578.9 369.4,1577.1 367.4,1572.7 365.0,1563.9 362.9,1551.9 359.9,1521.9 358.7,1485.9 359.6,1449.9 362.3,1418.9 364.3,1405.9 366.4,1396.9 369.1,1389.9 371.6,1386.9" stroke="#a0d6a0"/><path d="M371.1,1397.9 372.4,1397.1 373.4,1397.1 375.4,1398.9 376.4,1400.6 378.7,1406.9 380.9,1416.9 384.1,1444.9 385.4,1478.9 384.7,1513.9 381.8,1544.9 379.7,1556.9 377.4,1564.8 375.4,1568.9 374.4,1570.1 372.4,1570.8 370.4,1569.2 367.9,1563.9 365.8,1555.9 364.0,1545.9 361.3,1518.9 360.2,1488.9 360.8,1456.9 363.1,1428.9 366.5,1408.9 368.4,1402.5 371.1,1397.9" stroke="#a5d69c"/><path d="M371.6,1406.9 373.4,1406.4 374.4,1407.0 376.4,1410.2 378.4,1416.2 380.3,1424.9 383.1,1449.9 384.3,1480.9 383.6,1511.9 380.9,1539.9 379.4,1548.9 377.2,1556.9 374.4,1562.0 372.4,1562.6 370.4,1560.8 368.4,1556.3 364.9,1539.9 362.6,1516.9 361.6,1487.9 362.2,1459.9 364.3,1433.9 367.4,1416.1 369.4,1410.1 371.6,1406.9" stroke="#aad698"/><path d="M372.2,1414.9 373.4,1414.7 374.4,1415.3 376.4,1418.8 379.7,1431.9 382.2,1453.9 383.2,1480.9 382.7,1507.9 380.6,1531.9 377.4,1548.3 375.4,1553.3 373.4,1555.2 371.4,1554.5 369.4,1550.9 366.1,1536.9 363.8,1515.9 362.8,1488.9 363.3,1462.9 365.3,1438.9 368.4,1422.0 370.4,1416.9 372.2,1414.9" stroke="#b1d695"/><path d="M371.6,1422.9 373.4,1422.1 375.4,1424.2 377.2,1428.9 378.6,1434.9 381.0,1453.9 382.2,1478.9 381.8,1503.9 380.0,1526.9 377.2,1541.9 375.4,1546.5 373.4,1548.6 371.4,1547.7 370.0,1544.9 367.0,1532.9 364.9,1514.9 363.9,1491.9 364.2,1468.9 365.8,1446.9 368.4,1430.6 369.9,1425.9 371.6,1422.9" stroke="#b6d590"/><path d="M372.4,1428.9 373.4,1428.8 374.4,1429.5 375.4,1431.1 378.4,1442.2 380.5,1460.9 381.4,1481.9 380.9,1503.9 379.2,1523.9 376.4,1537.8 375.1,1540.9 373.4,1542.6 372.4,1542.4 371.4,1541.5 370.4,1539.6 367.6,1527.9 365.7,1510.9 364.8,1488.9 365.2,1467.9 366.9,1447.9 369.4,1434.6 370.9,1430.9 372.4,1428.9" stroke="#bcd58d"/><path d="M372.4,1434.9 373.4,1434.7 374.4,1435.5 375.4,1437.2 378.0,1446.9 379.8,1462.9 380.6,1482.9 380.2,1502.9 378.7,1519.9 376.4,1531.8 375.3,1534.9 373.4,1537.1 372.4,1536.9 371.5,1535.9 370.4,1533.7 368.1,1523.9 366.5,1508.9 365.7,1489.9 366.1,1469.9 367.5,1452.9 369.4,1441.5 370.6,1437.9 372.4,1434.9" stroke="#c1d489"/><path d="M371.9,1440.9 373.4,1440.1 374.4,1440.9 375.8,1443.9 377.1,1448.9 379.0,1462.9 379.8,1480.9 379.6,1498.9 378.3,1515.9 376.3,1526.9 374.7,1530.9 373.4,1532.2 372.4,1532.0 371.1,1529.9 368.8,1520.9 367.2,1506.9 366.5,1491.9 366.7,1473.9 367.8,1458.9 369.4,1447.8 370.4,1444.0 371.9,1440.9" stroke="#c6d485"/><path d="M373.1,1444.9 374.4,1445.7 375.4,1447.8 377.4,1456.9 378.7,1469.9 379.2,1484.9 378.9,1499.9 377.7,1513.9 375.7,1523.9 374.4,1526.9 373.4,1527.8 372.4,1527.5 371.0,1524.9 369.0,1515.9 367.7,1502.9 367.2,1486.9 367.7,1469.9 368.9,1456.9 370.9,1447.9 372.4,1445.1 373.1,1444.9" stroke="#cbd383"/><path d="M372.2,1449.9 373.4,1449.1 374.4,1450.1 376.4,1456.4 377.9,1467.9 378.6,1481.9 378.4,1497.9 377.3,1510.9 375.4,1520.5 374.4,1522.8 373.4,1523.7 372.4,1523.4 371.4,1521.7 369.7,1514.9 368.5,1504.9 367.8,1490.9 368.0,1476.9 368.8,1464.9 370.4,1454.3 372.2,1449.9" stroke="#d0d280"/><path d="M372.1,1453.9 373.4,1453.0 374.4,1454.0 376.0,1458.9 377.3,1467.9 378.1,1481.9 377.9,1495.9 377.0,1507.9 375.4,1516.5 374.4,1519.1 373.4,1520.1 372.4,1519.7 371.4,1517.8 370.0,1511.9 368.9,1501.9 368.4,1490.9 369.2,1467.9 370.4,1459.0 372.1,1453.9" stroke="#d5d27e"/><path d="M372.4,1456.9 373.4,1456.4 374.4,1457.5 375.8,1461.9 377.0,1470.9 377.6,1482.9 377.5,1494.9 376.6,1505.9 375.4,1512.8 374.4,1515.7 373.4,1516.8 372.4,1516.4 371.7,1514.9 370.4,1509.9 369.4,1500.9 368.9,1489.9 369.7,1468.9 371.0,1460.9 372.4,1456.9" stroke="#dad17e"/><path d="M372.7,1459.9 373.4,1459.5 374.4,1460.7 375.6,1464.9 376.8,1473.9 377.2,1483.9 377.0,1494.9 376.2,1504.9 375.0,1510.9 373.4,1513.9 372.4,1513.3 371.8,1511.9 370.6,1506.9 369.3,1488.9 370.1,1469.9 371.4,1462.5 372.7,1459.9" stroke="#ddd07e"/><path d="M372.4,1462.9 373.4,1462.3 374.4,1463.6 375.4,1467.4 376.8,1483.9 375.9,1502.9 374.7,1508.9 373.4,1511.2 372.4,1510.6 371.1,1505.9 369.7,1489.9 370.3,1472.9 371.4,1465.9 372.4,1462.9" stroke="#e2cf80"/><path d="M373.3,1464.9 374.4,1466.3 375.5,1470.9 376.5,1485.9 375.7,1500.9 374.4,1507.3 373.4,1508.8 372.4,1508.1 371.1,1502.9 370.0,1487.9 370.9,1471.9 371.9,1466.9 372.4,1465.5 373.3,1464.9" stroke="#e6cf81"/><path d="M394.7,1912.8V1669.4" stroke="#62c5cf"/><path d="M404.0,1912.8V1659.2" stroke="#64c4d2"/><path d="M412.5,1912.8V1649.9" stroke="#68c3d4"/><path d="M420.6,1912.8V1641.0" stroke="#6bc1d6"/><path d="M429.7,1912.8V1631.0" stroke="#6dc0d8"/><path d="M439.3,1912.8V1620.4" stroke="#70bfda"/><path d="M448.7,1912.8V1610.1" stroke="#71bddb"/><path d="M459.1,1912.8V1598.7" stroke="#72bcdc"/><path d="M469.9,1912.8V1586.8" stroke="#73b9dd"/><path d="M481.0,1912.8V1574.6" stroke="#74b8dd"/><path d="M493.1,1912.8V1561.3" stroke="#74b6df"/><path d="M505.8,1912.8V1547.4" stroke="#75b3e0"/><path d="M518.5,1912.8V1533.4" stroke="#76b1e1"/><path d="M531.7,1912.8V1518.9" stroke="#77b0e2"/><path d="M546.2,1912.8V1503.0" stroke="#78aee3"/><path d="M560.7,1912.8V1487.1" stroke="#78abe4"/><path d="M576.0,1912.8V1470.3" stroke="#78a9e6"/><path d="M592.2,1912.8V1452.5" stroke="#78a7e7"/><path d="M608.4,1912.8V1438.3" stroke="#79a5e7"/><path d="M625.1,1912.8V1438.3" stroke="#7aa2e8"/><path d="M642.0,1912.8V1416.2" stroke="#7ca0e9"/><path d="M659.8,1912.8V1394.2" stroke="#7e9ee9"/><path d="M678.9,1912.8V1372.1" stroke="#809ae9"/><path d="M697.6,1912.8V1350.0" stroke="#8198e9"/><path d="M716.3,1912.8V1328.0" stroke="#8295e7"/><path d="M736.0,1912.8V1305.9" stroke="#8293e7"/><path d="M756.7,1912.8V1283.8" stroke="#8390e6"/><path d="M777.4,1912.8V1261.8" stroke="#838ee5"/><path d="M798.3,1912.8V1239.7" stroke="#838ce4"/><path d="M819.6,1912.8V1217.6" stroke="#8389e2"/><path d="M841.7,1912.8V1195.5" stroke="#8287e0"/><path d="M863.6,1912.8V1173.5" stroke="#8284de"/><path d="M886.6,1912.8V1151.4" stroke="#8282db"/><path d="M909.4,1912.8V1129.5" stroke="#8180d9"/><path d="M933.2,1912.8V1129.5" stroke="#807ed6"/><path d="M956.8,1912.8V1129.5" stroke="#807bd4"/><path d="M981.1,1912.8V1129.5" stroke="#7f78cf"/><path d="M1005.7,1912.8V1129.5" stroke="#7e76cc"/></g><defs><pattern id="hatch" width="6" height="2.9" patternUnits="userSpaceOnUse"><rect width="6" height="2.9" fill="#eceefe"/><rect y="1.6" width="6" height="1.1" fill="#7f86f0"/></pattern></defs><path d="M878.7,1129.3 L899.8,1129.3 L898.3,1151.4 L889.2,1151.9 L878.7,1141.5Z" fill="url(#hatch)" stroke="#5a63ee" stroke-width="0.9"/><path d="M857.6,1151.4 L878.7,1151.4 L877.2,1173.5 L868.1,1174.0 L857.6,1163.5Z" fill="url(#hatch)" stroke="#5a63ee" stroke-width="0.9"/><path d="M836.5,1173.5 L857.6,1173.5 L856.1,1195.5 L847.0,1196.0 L836.5,1185.6Z" fill="url(#hatch)" stroke="#5a63ee" stroke-width="0.9"/><path d="M815.4,1195.5 L836.5,1195.5 L835.0,1217.6 L826.0,1218.1 L815.4,1207.7Z" fill="url(#hatch)" stroke="#5a63ee" stroke-width="0.9"/><path d="M794.3,1217.6 L815.4,1217.6 L813.9,1239.7 L804.9,1240.2 L794.3,1229.7Z" fill="url(#hatch)" stroke="#5a63ee" stroke-width="0.9"/><path d="M773.2,1239.7 L794.3,1239.7 L792.8,1261.8 L783.8,1262.2 L773.2,1251.8Z" fill="url(#hatch)" stroke="#5a63ee" stroke-width="0.9"/><path d="M752.1,1261.8 L773.2,1261.8 L771.7,1283.8 L762.6,1284.3 L752.1,1273.9Z" fill="url(#hatch)" stroke="#5a63ee" stroke-width="0.9"/><path d="M731.0,1283.8 L752.1,1283.8 L750.6,1305.9 L741.5,1306.4 L731.0,1296.0Z" fill="url(#hatch)" stroke="#5a63ee" stroke-width="0.9"/><path d="M709.9,1305.9 L731.0,1305.9 L729.5,1328.0 L720.5,1328.5 L709.9,1318.0Z" fill="url(#hatch)" stroke="#5a63ee" stroke-width="0.9"/><path d="M688.8,1328.0 L709.9,1328.0 L708.4,1350.0 L699.4,1350.5 L688.8,1340.1Z" fill="url(#hatch)" stroke="#5a63ee" stroke-width="0.9"/><path d="M667.7,1350.0 L688.8,1350.0 L687.3,1372.1 L678.2,1372.6 L667.7,1362.2Z" fill="url(#hatch)" stroke="#5a63ee" stroke-width="0.9"/><path d="M646.6,1372.1 L667.7,1372.1 L666.2,1394.2 L657.1,1394.7 L646.6,1384.2Z" fill="url(#hatch)" stroke="#5a63ee" stroke-width="0.9"/><path d="M625.5,1394.2 L646.6,1394.2 L645.1,1416.2 L636.0,1416.7 L625.5,1406.3Z" fill="url(#hatch)" stroke="#5a63ee" stroke-width="0.9"/><path d="M604.4,1416.2 L625.5,1416.2 L624.0,1438.3 L615.0,1438.8 L604.4,1428.4Z" fill="url(#hatch)" stroke="#5a63ee" stroke-width="0.9"/>
<circle cx="382.5" cy="58.4" r="1.4" fill="#222"/><path d="M740,56.5 Q746.5,62.5 753.5,56.5" fill="none" stroke="#111" stroke-width="2"/><text x="140.5" y="669" font-family="Liberation Sans" font-size="38.5">1</text><text x="137.5" y="1735.2" font-family="Liberation Sans" font-size="38.5">1</text>
<path d="M136.4,66.7 V844.4 H1018" fill="none" stroke="#666" stroke-width="1.3"/><path d="M139.0,844.4 v-9M229.2,844.4 v-9M319.4,844.4 v-9M409.6,844.4 v-9M499.8,844.4 v-9M590.0,844.4 v-9M680.2,844.4 v-9M770.4,844.4 v-9M860.6,844.4 v-9M950.8,844.4 v-9M136.4,844.3 h9M136.4,733.2 h9M136.4,622.1 h9M136.4,511.0 h9M136.4,400.0 h9M136.4,288.9 h9M136.4,177.8 h9M136.4,66.7 h9" fill="none" stroke="#666" stroke-width="1.3"/>
<path d="M140.6,1129.0 V1912.8 H1028" fill="none" stroke="#666" stroke-width="1.3"/><path d="M142.3,1912.8 v-9M233.4,1912.8 v-9M324.4,1912.8 v-9M415.4,1912.8 v-9M506.5,1912.8 v-9M597.5,1912.8 v-9M688.6,1912.8 v-9M779.7,1912.8 v-9M870.7,1912.8 v-9M961.8,1912.8 v-9M140.6,1912.8 h9M140.6,1800.8 h9M140.6,1688.8 h9M140.6,1576.8 h9M140.6,1464.8 h9M140.6,1352.8 h9M140.6,1240.8 h9M140.6,1128.8 h9" fill="none" stroke="#666" stroke-width="1.3"/>
<line x1="158.4" y1="64.4" x2="158.4" y2="730" stroke="#000" stroke-width="8.3" stroke-dasharray="25.2 11.070000000000004" stroke-dashoffset="13.370000000000005"/>
<line x1="394.9" y1="608.1" x2="884.0" y2="59.0" stroke="#000" stroke-width="8.3" stroke-dasharray="26.0 10.149999999999999" stroke-dashoffset="0"/>
<line x1="154.0" y1="1128.2" x2="154.0" y2="1796" stroke="#000" stroke-width="8.3" stroke-dasharray="25.6 10.799999999999997" stroke-dashoffset="13.500000000000002"/>
<line x1="391.0" y1="1673.5" x2="890.5" y2="1124.8" stroke="#000" stroke-width="8.3" stroke-dasharray="26.0 10.450000000000003" stroke-dashoffset="0"/>
<rect x="172" y="722" width="14" height="18" fill="#fff"/><rect x="301" y="724" width="17" height="18" fill="#fff"/><rect x="399" y="604" width="26" height="34" fill="#fff"/><rect x="1014" y="652" width="26" height="26" fill="#fff"/><rect x="168" y="1787" width="22" height="20" fill="#fff"/><rect x="297" y="1790" width="24" height="20" fill="#fff"/><rect x="394" y="1676" width="24" height="22" fill="#fff"/><rect x="1016" y="1720" width="22" height="22" fill="#fff"/>
<line x1="147.0" y1="730.8" x2="160.0" y2="730.8" stroke="#444" stroke-width="1.2"/><line x1="148.9" y1="726.2" x2="158.1" y2="735.4" stroke="#444" stroke-width="1.2"/><line x1="153.5" y1="724.3" x2="153.5" y2="737.3" stroke="#444" stroke-width="1.2"/><line x1="158.1" y1="726.2" x2="148.9" y2="735.4" stroke="#444" stroke-width="1.2"/><circle cx="166" cy="729.8" r="9.2" fill="#0e2233"/><circle cx="166" cy="729.8" r="5.1" fill="#000"/>
<line x1="223.8" y1="733.3" x2="236.8" y2="733.3" stroke="#444" stroke-width="1.2"/><line x1="225.7" y1="728.7" x2="234.9" y2="737.9" stroke="#444" stroke-width="1.2"/><line x1="230.3" y1="726.8" x2="230.3" y2="739.8" stroke="#444" stroke-width="1.2"/><line x1="234.9" y1="728.7" x2="225.7" y2="737.9" stroke="#444" stroke-width="1.2"/><circle cx="242.8" cy="732.3" r="9.2" fill="#0e2233"/><circle cx="242.8" cy="732.3" r="5.1" fill="#000"/>
<line x1="276.0" y1="733.8" x2="289.0" y2="733.8" stroke="#444" stroke-width="1.2"/><line x1="277.9" y1="729.2" x2="287.1" y2="738.4" stroke="#444" stroke-width="1.2"/><line x1="282.5" y1="727.3" x2="282.5" y2="740.3" stroke="#444" stroke-width="1.2"/><line x1="287.1" y1="729.2" x2="277.9" y2="738.4" stroke="#444" stroke-width="1.2"/><circle cx="295" cy="732.8" r="9.2" fill="#0e2233"/><circle cx="295" cy="732.8" r="5.1" fill="#000"/>
<line x1="372.5" y1="620.9" x2="385.5" y2="620.9" stroke="#444" stroke-width="1.2"/><line x1="374.4" y1="616.3" x2="383.6" y2="625.5" stroke="#444" stroke-width="1.2"/><line x1="379.0" y1="614.4" x2="379.0" y2="627.4" stroke="#444" stroke-width="1.2"/><line x1="383.6" y1="616.3" x2="374.4" y2="625.5" stroke="#444" stroke-width="1.2"/><circle cx="391.5" cy="619.9" r="9.2" fill="#0e2233"/><circle cx="391.5" cy="619.9" r="5.1" fill="#000"/>
<line x1="988.0" y1="665.8" x2="1001.0" y2="665.8" stroke="#444" stroke-width="1.2"/><line x1="989.9" y1="661.2" x2="999.1" y2="670.4" stroke="#444" stroke-width="1.2"/><line x1="994.5" y1="659.3" x2="994.5" y2="672.3" stroke="#444" stroke-width="1.2"/><line x1="999.1" y1="661.2" x2="989.9" y2="670.4" stroke="#444" stroke-width="1.2"/><circle cx="1007" cy="664.8" r="9.2" fill="#0e2233"/><circle cx="1007" cy="664.8" r="5.1" fill="#000"/>
<line x1="142.4" y1="1797.4" x2="155.4" y2="1797.4" stroke="#444" stroke-width="1.2"/><line x1="144.3" y1="1792.8" x2="153.5" y2="1802.0" stroke="#444" stroke-width="1.2"/><line x1="148.9" y1="1790.9" x2="148.9" y2="1803.9" stroke="#444" stroke-width="1.2"/><line x1="153.5" y1="1792.8" x2="144.3" y2="1802.0" stroke="#444" stroke-width="1.2"/><circle cx="161.4" cy="1796.4" r="8.8" fill="#0e2233"/><circle cx="161.4" cy="1796.4" r="4.8" fill="#000"/>
<line x1="220.2" y1="1800.7" x2="233.2" y2="1800.7" stroke="#444" stroke-width="1.2"/><line x1="222.1" y1="1796.1" x2="231.3" y2="1805.3" stroke="#444" stroke-width="1.2"/><line x1="226.7" y1="1794.2" x2="226.7" y2="1807.2" stroke="#444" stroke-width="1.2"/><line x1="231.3" y1="1796.1" x2="222.1" y2="1805.3" stroke="#444" stroke-width="1.2"/><circle cx="239.2" cy="1799.7" r="8.8" fill="#0e2233"/><circle cx="239.2" cy="1799.7" r="4.8" fill="#000"/>
<line x1="271.5" y1="1800.7" x2="284.5" y2="1800.7" stroke="#444" stroke-width="1.2"/><line x1="273.4" y1="1796.1" x2="282.6" y2="1805.3" stroke="#444" stroke-width="1.2"/><line x1="278.0" y1="1794.2" x2="278.0" y2="1807.2" stroke="#444" stroke-width="1.2"/><line x1="282.6" y1="1796.1" x2="273.4" y2="1805.3" stroke="#444" stroke-width="1.2"/><circle cx="290.5" cy="1799.7" r="8.8" fill="#0e2233"/><circle cx="290.5" cy="1799.7" r="4.8" fill="#000"/>
<line x1="367.6" y1="1687.5" x2="380.6" y2="1687.5" stroke="#444" stroke-width="1.2"/><line x1="369.5" y1="1682.9" x2="378.7" y2="1692.1" stroke="#444" stroke-width="1.2"/><line x1="374.1" y1="1681.0" x2="374.1" y2="1694.0" stroke="#444" stroke-width="1.2"/><line x1="378.7" y1="1682.9" x2="369.5" y2="1692.1" stroke="#444" stroke-width="1.2"/><circle cx="386.6" cy="1686.5" r="8.8" fill="#0e2233"/><circle cx="386.6" cy="1686.5" r="4.8" fill="#000"/>
<line x1="989.6" y1="1731.0" x2="1002.6" y2="1731.0" stroke="#444" stroke-width="1.2"/><line x1="991.5" y1="1726.4" x2="1000.7" y2="1735.6" stroke="#444" stroke-width="1.2"/><line x1="996.1" y1="1724.5" x2="996.1" y2="1737.5" stroke="#444" stroke-width="1.2"/><line x1="1000.7" y1="1726.4" x2="991.5" y2="1735.6" stroke="#444" stroke-width="1.2"/><circle cx="1008.6" cy="1730" r="8.8" fill="#0e2233"/><circle cx="1008.6" cy="1730" r="4.8" fill="#000"/>
<text x="103.96" y="82.32" font-family="Liberation Sans" font-style="normal" font-weight="normal" font-size="38.17" transform="translate(114.65,0) scale(1.122,1) translate(-114.65,0)">6</text>
<text x="102.20" y="192.61" font-family="Liberation Sans" font-style="normal" font-weight="normal" font-size="39.29">5</text>
<text x="103.90" y="302.10" font-family="Liberation Sans" font-style="normal" font-weight="normal" font-size="40.71">4</text>
<text x="95.54" y="416.62" font-family="Liberation Sans" font-style="normal" font-weight="normal" font-size="38.03">3</text>
<text x="102.29" y="524.90" font-family="Liberation Sans" font-style="normal" font-weight="normal" font-size="39.86" transform="translate(113.45,0) scale(1.042,1) translate(-113.45,0)">2</text>
<text x="101.70" y="632.60" font-family="Liberation Sans" font-style="normal" font-weight="normal" font-size="39.13" transform="translate(113.05,0) scale(0.800,1) translate(-113.05,0)">1</text>
<text x="104.67" y="747.83" font-family="Liberation Sans" font-style="normal" font-weight="normal" font-size="36.90">0</text>
<text x="79.46" y="852.00" font-family="Liberation Sans" font-style="normal" font-weight="normal" font-size="37.97" transform="translate(101.10,0) scale(0.942,1) translate(-101.10,0)">−1</text>
<text x="128.57" y="889.62" font-family="Liberation Sans" font-style="normal" font-weight="normal" font-size="38.31" transform="translate(139.30,0) scale(1.055,1) translate(-139.30,0)">0</text>
<text x="212.91" y="889.62" font-family="Liberation Sans" font-style="normal" font-weight="normal" font-size="38.31" transform="translate(234.75,0) scale(1.052,1) translate(-234.75,0)">10</text>
<text x="301.35" y="889.61" font-family="Liberation Sans" font-style="normal" font-weight="normal" font-size="38.86">15</text>
<text x="389.15" y="889.62" font-family="Liberation Sans" font-style="normal" font-weight="normal" font-size="38.31" transform="translate(410.60,0) scale(1.065,1) translate(-410.60,0)">20</text>
<text x="477.78" y="889.01" font-family="Liberation Sans" font-style="normal" font-weight="normal" font-size="38.87" transform="translate(499.55,0) scale(1.042,1) translate(-499.55,0)">25</text>
<text x="575.03" y="889.01" font-family="Liberation Sans" font-style="normal" font-weight="normal" font-size="38.87">30</text>
<text x="663.63" y="889.01" font-family="Liberation Sans" font-style="normal" font-weight="normal" font-size="38.87">35</text>
<text x="752.35" y="890.00" font-family="Liberation Sans" font-style="normal" font-weight="normal" font-size="39.72">40</text>
<text x="841.00" y="890.00" font-family="Liberation Sans" font-style="normal" font-weight="normal" font-size="39.72">45</text>
<text x="938.11" y="890.00" font-family="Liberation Sans" font-style="normal" font-weight="normal" font-size="39.72">50</text>
<text x="536.54" y="922.61" font-family="Liberation Sans" font-style="normal" font-weight="normal" font-size="38.87" transform="translate(562.20,0) scale(0.918,1) translate(-562.20,0)">Re</text>
<text x="594.66" y="923.00" font-family="Liberation Sans" font-style="italic" font-weight="normal" font-size="37.81">k</text>
<text x="614.97" y="933.50" font-family="Liberation Sans" font-style="italic" font-weight="normal" font-size="24.91" transform="translate(620.95,0) scale(0.972,1) translate(-620.95,0)">z</text>
<text x="1094.89" y="118.21" font-family="Liberation Sans" font-style="normal" font-weight="normal" font-size="39.14">15</text>
<text x="1097.58" y="212.72" font-family="Liberation Sans" font-style="normal" font-weight="normal" font-size="38.45" transform="translate(1119.50,0) scale(1.035,1) translate(-1119.50,0)">10</text>
<text x="1103.55" y="309.49" font-family="Liberation Sans" font-style="normal" font-weight="normal" font-size="40.71">5</text>
<text x="1098.92" y="400.63" font-family="Liberation Sans" font-style="normal" font-weight="normal" font-size="36.90" transform="translate(1109.25,0) scale(1.090,1) translate(-1109.25,0)">0</text>
<text x="1100.90" y="491.60" font-family="Liberation Sans" font-style="normal" font-weight="normal" font-size="40.00">−5</text>
<text x="1101.70" y="585.41" font-family="Liberation Sans" font-style="normal" font-weight="normal" font-size="39.30" transform="translate(1135.30,0) scale(1.021,1) translate(-1135.30,0)">−10</text>
<text x="1100.86" y="676.62" font-family="Liberation Sans" font-style="normal" font-weight="normal" font-size="38.00" transform="translate(1133.35,0) scale(1.077,1) translate(-1133.35,0)">−15</text>
<text x="1097.97" y="776.71" font-family="Liberation Sans" font-style="normal" font-weight="normal" font-size="39.15" transform="translate(1131.45,0) scale(1.026,1) translate(-1131.45,0)">−20</text>
<text x="150.44" y="780.00" font-family="Liberation Sans" font-style="italic" font-weight="normal" font-size="49.32" transform="translate(164.25,0) scale(0.955,1) translate(-164.25,0)">k</text>
<text x="175.25" y="792.50" font-family="Liberation Sans" font-style="normal" font-weight="normal" font-size="31.88" transform="translate(184.50,0) scale(0.800,1) translate(-184.50,0)">1</text>
<text x="235.76" y="779.40" font-family="Liberation Sans" font-style="italic" font-weight="normal" font-size="47.12" transform="translate(248.95,0) scale(0.837,1) translate(-248.95,0)">k</text>
<text x="262.18" y="792.39" font-family="Liberation Sans" font-style="normal" font-weight="normal" font-size="30.99">3</text>
<text x="288.76" y="779.40" font-family="Liberation Sans" font-style="italic" font-weight="normal" font-size="47.12" transform="translate(301.95,0) scale(0.902,1) translate(-301.95,0)">k</text>
<text x="314.90" y="792.70" font-family="Liberation Sans" font-style="normal" font-weight="normal" font-size="31.43" transform="translate(323.70,0) scale(1.065,1) translate(-323.70,0)">2</text>
<text x="378.39" y="671.90" font-family="Liberation Sans" font-style="italic" font-weight="normal" font-size="46.99" transform="translate(391.55,0) scale(0.937,1) translate(-391.55,0)">k</text>
<text x="403.16" y="684.98" font-family="Liberation Sans" font-style="normal" font-weight="normal" font-size="31.57" transform="translate(412.00,0) scale(1.043,1) translate(-412.00,0)">5</text>
<text x="980.07" y="708.70" font-family="Liberation Sans" font-style="italic" font-weight="normal" font-size="47.26" transform="translate(993.30,0) scale(0.977,1) translate(-993.30,0)">k</text>
<text x="1005.25" y="722.50" font-family="Liberation Sans" font-style="normal" font-weight="normal" font-size="32.71" transform="translate(1014.25,0) scale(0.977,1) translate(-1014.25,0)">4</text>
<text x="100.00" y="1145.53" font-family="Liberation Sans" font-style="normal" font-weight="normal" font-size="37.32" transform="translate(110.45,0) scale(1.124,1) translate(-110.45,0)">6</text>
<text x="98.30" y="1255.81" font-family="Liberation Sans" font-style="normal" font-weight="normal" font-size="38.57">5</text>
<text x="100.18" y="1365.60" font-family="Liberation Sans" font-style="normal" font-weight="normal" font-size="39.71">4</text>
<text x="90.73" y="1481.42" font-family="Liberation Sans" font-style="normal" font-weight="normal" font-size="37.89" transform="translate(101.15,0) scale(1.073,1) translate(-101.15,0)">3</text>
<text x="98.95" y="1591.10" font-family="Liberation Sans" font-style="normal" font-weight="normal" font-size="37.14" transform="translate(109.35,0) scale(1.165,1) translate(-109.35,0)">2</text>
<text x="98.47" y="1697.80" font-family="Liberation Sans" font-style="normal" font-weight="normal" font-size="37.68" transform="translate(109.40,0) scale(0.800,1) translate(-109.40,0)">1</text>
<text x="100.54" y="1816.91" font-family="Liberation Sans" font-style="normal" font-weight="normal" font-size="38.59">0</text>
<text x="72.55" y="1920.40" font-family="Liberation Sans" font-style="normal" font-weight="normal" font-size="40.87" transform="translate(95.85,0) scale(0.901,1) translate(-95.85,0)">−1</text>
<text x="126.11" y="1952.12" font-family="Liberation Sans" font-style="normal" font-weight="normal" font-size="38.17" transform="translate(136.80,0) scale(1.026,1) translate(-136.80,0)">0</text>
<text x="210.60" y="1952.01" font-family="Liberation Sans" font-style="normal" font-weight="normal" font-size="38.59">10</text>
<text x="299.39" y="1952.01" font-family="Liberation Sans" font-style="normal" font-weight="normal" font-size="39.14" transform="translate(321.70,0) scale(1.027,1) translate(-321.70,0)">15</text>
<text x="389.14" y="1952.01" font-family="Liberation Sans" font-style="normal" font-weight="normal" font-size="38.59" transform="translate(410.75,0) scale(1.054,1) translate(-410.75,0)">20</text>
<text x="478.32" y="1952.01" font-family="Liberation Sans" font-style="normal" font-weight="normal" font-size="39.44" transform="translate(500.40,0) scale(1.059,1) translate(-500.40,0)">25</text>
<text x="575.31" y="1952.01" font-family="Liberation Sans" font-style="normal" font-weight="normal" font-size="39.44">30</text>
<text x="664.71" y="1952.01" font-family="Liberation Sans" font-style="normal" font-weight="normal" font-size="39.44">35</text>
<text x="753.41" y="1952.01" font-family="Liberation Sans" font-style="normal" font-weight="normal" font-size="39.44" transform="translate(774.90,0) scale(1.029,1) translate(-774.90,0)">40</text>
<text x="842.76" y="1952.01" font-family="Liberation Sans" font-style="normal" font-weight="normal" font-size="39.44" transform="translate(864.25,0) scale(1.026,1) translate(-864.25,0)">45</text>
<text x="940.26" y="1952.01" font-family="Liberation Sans" font-style="normal" font-weight="normal" font-size="39.44" transform="translate(962.15,0) scale(1.046,1) translate(-962.15,0)">50</text>
<text x="534.89" y="1991.51" font-family="Liberation Sans" font-style="normal" font-weight="normal" font-size="38.87" transform="translate(560.55,0) scale(0.942,1) translate(-560.55,0)">Re</text>
<text x="592.46" y="1991.90" font-family="Liberation Sans" font-style="italic" font-weight="normal" font-size="37.81">k</text>
<text x="612.75" y="2002.40" font-family="Liberation Sans" font-style="italic" font-weight="normal" font-size="23.96" transform="translate(618.50,0) scale(0.968,1) translate(-618.50,0)">z</text>
<text x="1111.92" y="1196.54" font-family="Liberation Sans" font-style="normal" font-weight="normal" font-size="35.77" transform="translate(1131.95,0) scale(1.132,1) translate(-1131.95,0)">60</text>
<text x="1110.38" y="1308.91" font-family="Liberation Sans" font-style="normal" font-weight="normal" font-size="38.87" transform="translate(1131.95,0) scale(1.031,1) translate(-1131.95,0)">50</text>
<text x="1110.29" y="1421.21" font-family="Liberation Sans" font-style="normal" font-weight="normal" font-size="38.73" transform="translate(1131.40,0) scale(1.043,1) translate(-1131.40,0)">40</text>
<text x="1111.24" y="1533.63" font-family="Liberation Sans" font-style="normal" font-weight="normal" font-size="37.32" transform="translate(1131.95,0) scale(1.074,1) translate(-1131.95,0)">30</text>
<text x="1113.05" y="1644.32" font-family="Liberation Sans" font-style="normal" font-weight="normal" font-size="38.03" transform="translate(1134.35,0) scale(1.085,1) translate(-1134.35,0)">20</text>
<text x="1109.47" y="1758.72" font-family="Liberation Sans" font-style="normal" font-weight="normal" font-size="38.03" transform="translate(1131.15,0) scale(1.049,1) translate(-1131.15,0)">10</text>
<text x="1111.67" y="1868.85" font-family="Liberation Sans" font-style="normal" font-weight="normal" font-size="34.93" transform="translate(1121.45,0) scale(1.091,1) translate(-1121.45,0)">0</text>
<text x="146.75" y="1846.90" font-family="Liberation Sans" font-style="italic" font-weight="normal" font-size="46.44" transform="translate(159.75,0) scale(0.890,1) translate(-159.75,0)">k</text>
<text x="166.41" y="1860.10" font-family="Liberation Sans" font-style="normal" font-weight="normal" font-size="45.65" transform="translate(179.65,0) scale(0.800,1) translate(-179.65,0)">1</text>
<text x="232.05" y="1846.90" font-family="Liberation Sans" font-style="italic" font-weight="normal" font-size="46.44" transform="translate(245.05,0) scale(0.890,1) translate(-245.05,0)">k</text>
<text x="256.18" y="1860.54" font-family="Liberation Sans" font-style="normal" font-weight="normal" font-size="36.06" transform="translate(266.10,0) scale(0.932,1) translate(-266.10,0)">3</text>
<text x="285.75" y="1846.90" font-family="Liberation Sans" font-style="italic" font-weight="normal" font-size="46.44" transform="translate(298.75,0) scale(0.890,1) translate(-298.75,0)">k</text>
<text x="310.51" y="1860.90" font-family="Liberation Sans" font-style="normal" font-weight="normal" font-size="36.57" transform="translate(320.75,0) scale(0.933,1) translate(-320.75,0)">2</text>
<text x="375.44" y="1738.10" font-family="Liberation Sans" font-style="italic" font-weight="normal" font-size="46.99" transform="translate(388.60,0) scale(0.966,1) translate(-388.60,0)">k</text>
<text x="400.94" y="1751.57" font-family="Liberation Sans" font-style="normal" font-weight="normal" font-size="32.71">5</text>
<text x="980.52" y="1775.50" font-family="Liberation Sans" font-style="italic" font-weight="normal" font-size="47.26" transform="translate(993.75,0) scale(0.916,1) translate(-993.75,0)">k</text>
<text x="1004.82" y="1789.40" font-family="Liberation Sans" font-style="normal" font-weight="normal" font-size="35.57" transform="translate(1014.60,0) scale(0.893,1) translate(-1014.60,0)">4</text>
<text font-family="Liberation Sans" font-style="normal" font-size="39.86" transform="translate(70.30,505.82) rotate(-90) scale(1.064,1)">Im</text><text font-family="Liberation Sans" font-style="italic" font-size="38.22" transform="translate(70.30,447.74) rotate(-90) scale(0.966,1)">k</text><text font-family="Liberation Sans" font-style="italic" font-size="25.66" transform="translate(81.10,428.36) rotate(-90) scale(0.935,1)">z</text><text font-family="Liberation Sans" font-style="normal" font-size="40.87" transform="translate(66.70,1571.52) rotate(-90) scale(1.065,1)">Im</text><text font-family="Liberation Sans" font-style="italic" font-size="38.63" transform="translate(66.70,1513.57) rotate(-90) scale(1.001,1)">k</text><text font-family="Liberation Sans" font-style="italic" font-size="24.53" transform="translate(76.00,1493.45) rotate(-90) scale(1.003,1)">z</text><text font-family="Liberation Sans" font-style="normal" font-size="37.30" transform="translate(199.03,300.07) rotate(-90) scale(1.028,1)">Branch cut</text><text font-family="Liberation Sans" font-style="normal" font-size="37.57" transform="translate(195.02,1366.02) rotate(-90) scale(1.038,1)">Branch cut</text>
<text font-family="Liberation Sans" font-size="38.4" transform="translate(622.6,329.6) rotate(-45.5)">Branch cut</text><text font-family="Liberation Sans" font-size="38.4" transform="translate(623.0,1393.9) rotate(-45.5)">Branch cut</text>
<text x="1031.6" y="876.9" font-family="Liberation Sans" font-size="29.0" fill="#1c1c1c" textLength="186.1" lengthAdjust="spacingAndGlyphs">The absolute</text><text x="1031.6" y="917.5" font-family="Liberation Sans" font-size="29.0" fill="#1c1c1c" textLength="167.5" lengthAdjust="spacingAndGlyphs">value of the</text><text x="1032.6" y="957.3" font-family="Liberation Sans" font-size="29.0" fill="#1c1c1c" textLength="205.7" lengthAdjust="spacingAndGlyphs">Integrand (dB)</text><text x="1032.6" y="1946.7" font-family="Liberation Sans" font-size="29.0" fill="#1c1c1c" textLength="187.1" lengthAdjust="spacingAndGlyphs">The absolute</text><text x="1032.6" y="1985.5" font-family="Liberation Sans" font-size="29.0" fill="#1c1c1c" textLength="168.5" lengthAdjust="spacingAndGlyphs">value of the</text><text x="1033.6" y="2026.2" font-family="Liberation Sans" font-size="29.0" fill="#1c1c1c" textLength="206.7" lengthAdjust="spacingAndGlyphs">Integrand (dB)</text>
<text x="645.2" y="1031" font-family="Liberation Serif" font-size="40.5">(<tspan font-weight="bold">a</tspan>)</text><text x="642.8" y="2100.2" font-family="Liberation Serif" font-size="40.5">(<tspan font-weight="bold">b</tspan>)</text>
<text x="352.5" y="1108.5" font-family="Liberation Sans" font-size="48.5" textLength="405" lengthAdjust="spacingAndGlyphs">Surface wave pole</text><line x1="582" y1="1109" x2="389.5" y2="1463" stroke="#555" stroke-width="1.3"/><path d="M381.2,1461 L381.2,1479.5 L396.2,1468 Z" fill="#000"/>
<rect x="1043.3" y="66.6" width="48.299999999999955" height="778.4" fill="url(#cbar)" stroke="#555" stroke-width="1.2"/><path d="M1091.6,106.3 h-9M1091.6,200.5 h-9M1091.6,294.7 h-9M1091.6,388.9 h-9M1091.6,483.1 h-9M1091.6,577.3 h-9M1091.6,671.5 h-9M1091.6,765.7 h-9" stroke="#333" stroke-width="1.2"/>
<rect x="1053.0" y="1129.5" width="48.90000000000009" height="784.0" fill="url(#cbar)" stroke="#555" stroke-width="1.2"/><path d="M1101.9,1184.0 h-9M1101.9,1296.4 h-9M1101.9,1408.8 h-9M1101.9,1521.2 h-9M1101.9,1633.6 h-9M1101.9,1746.0 h-9M1101.9,1858.4 h-9" stroke="#333" stroke-width="1.2"/>
</svg></body></html>
